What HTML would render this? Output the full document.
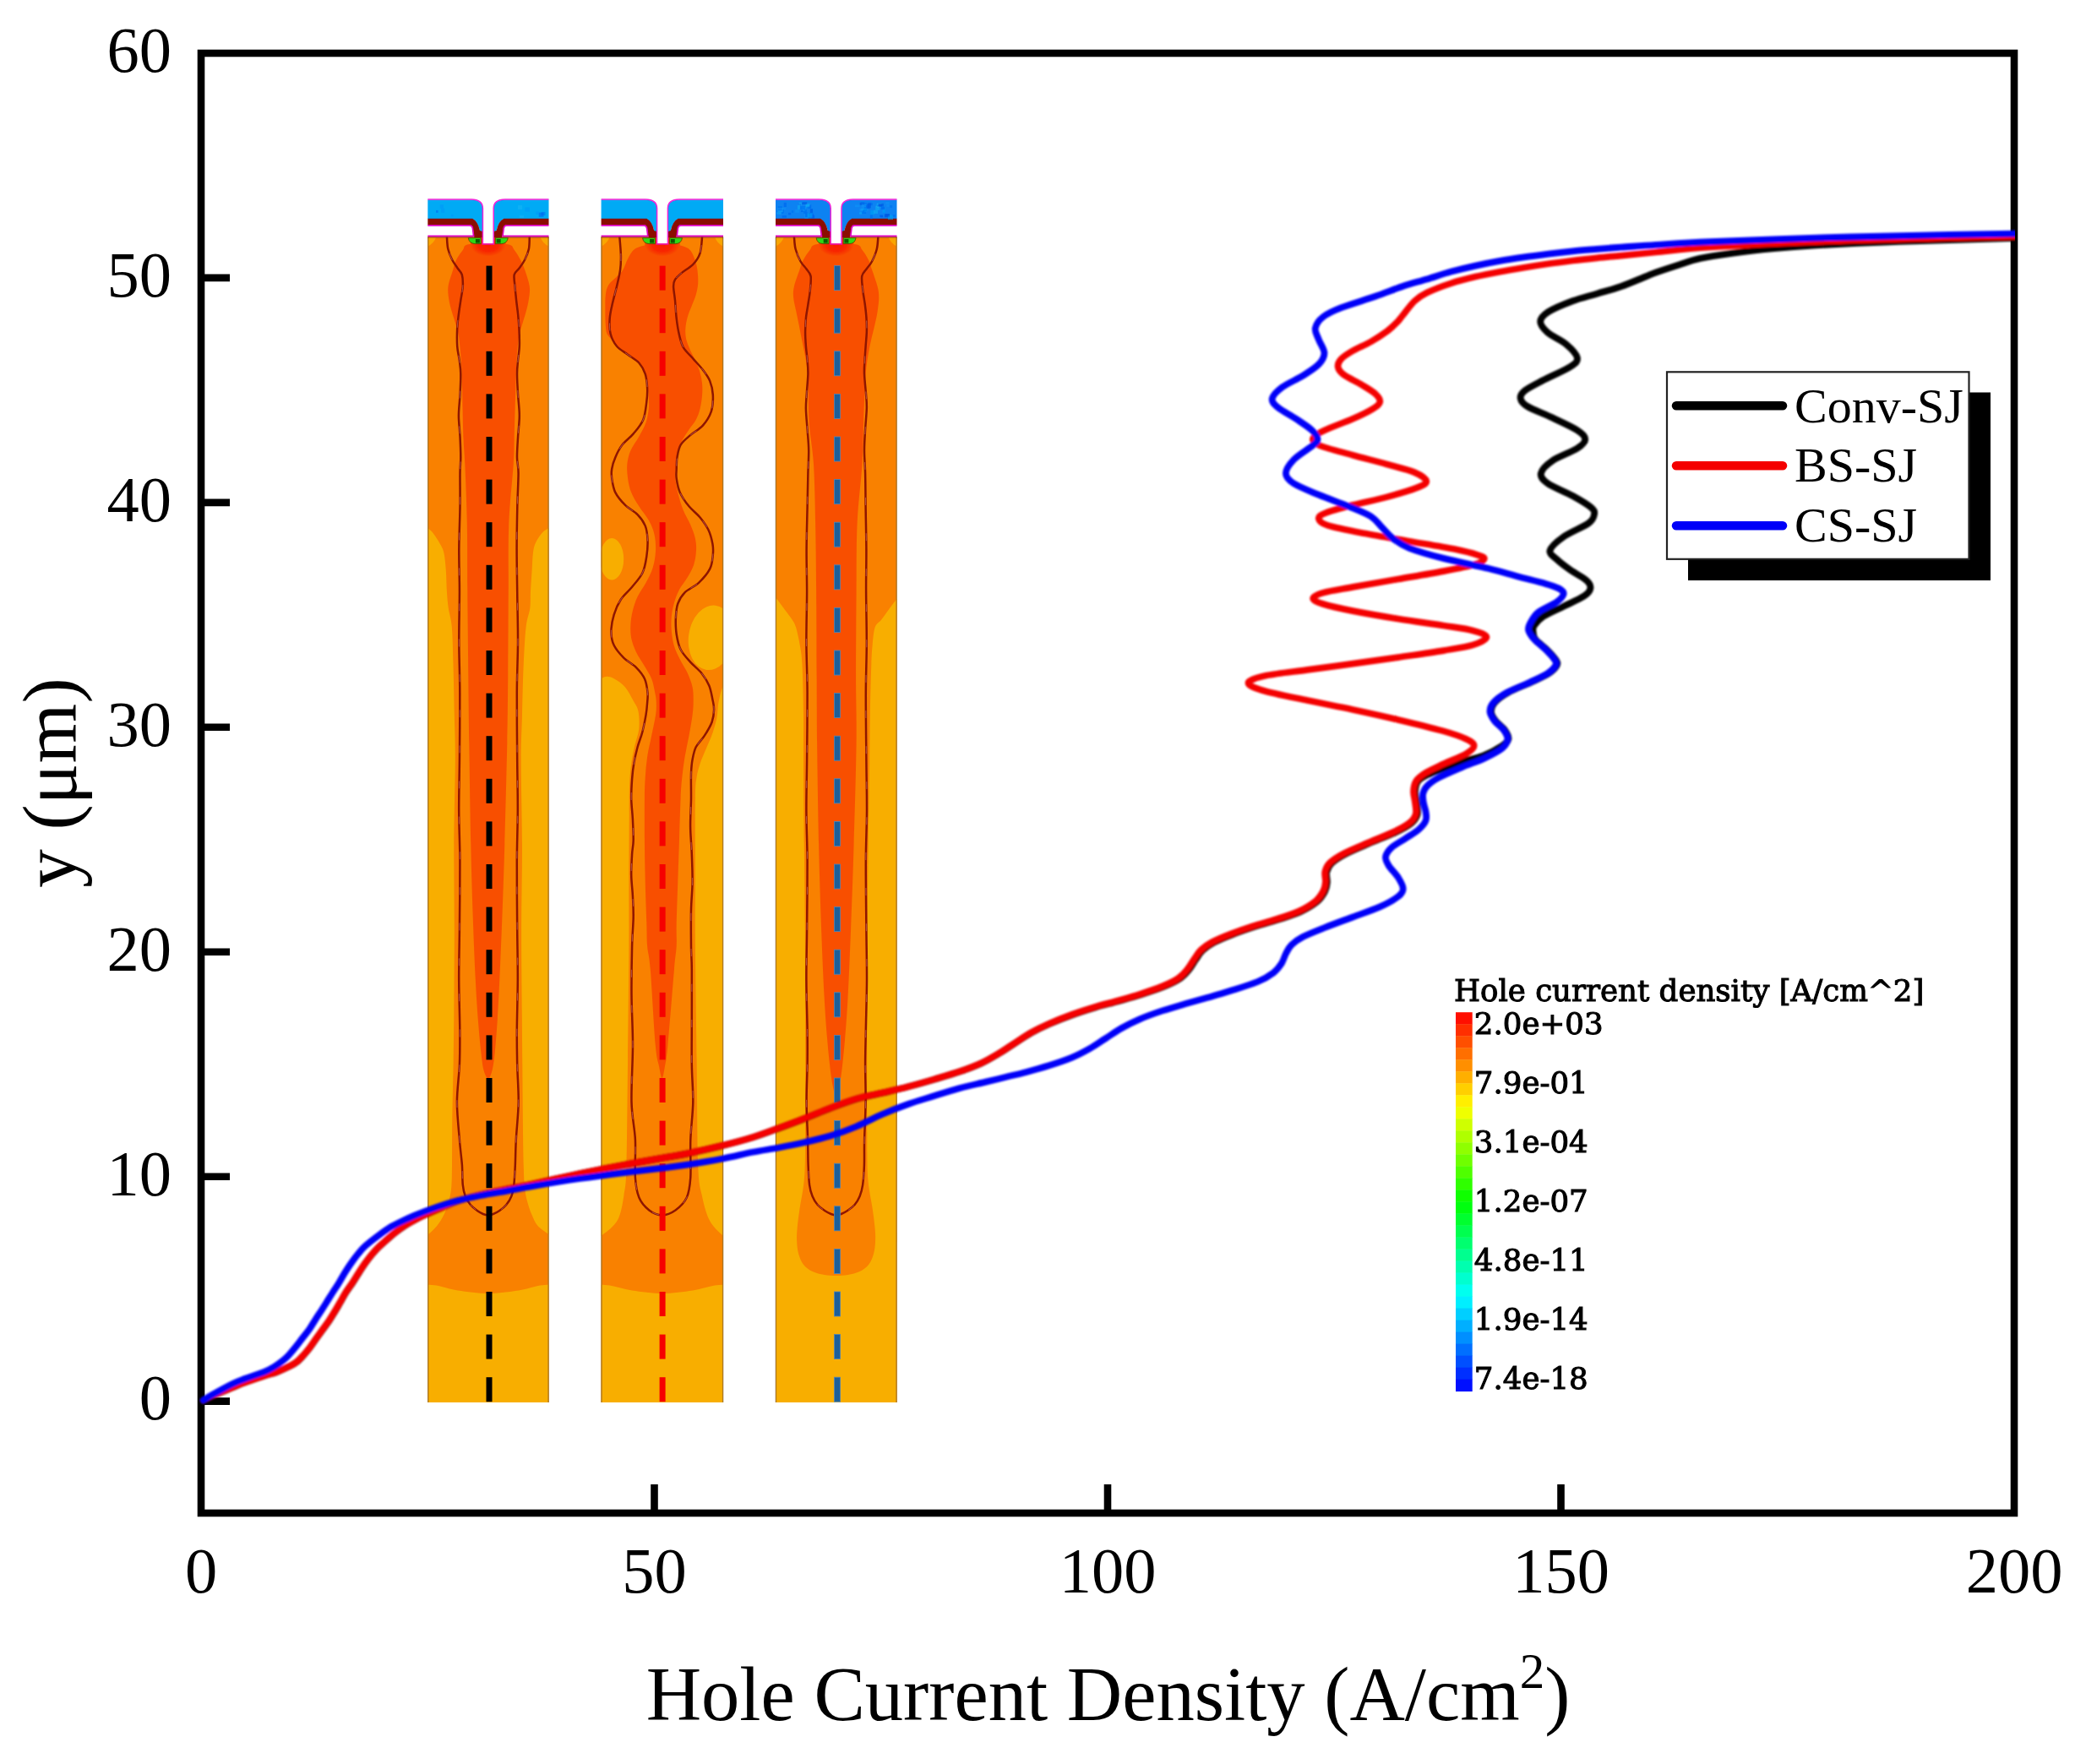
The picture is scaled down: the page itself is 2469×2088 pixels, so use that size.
<!DOCTYPE html>
<html lang="en"><head><meta charset="utf-8"><title>Hole Current Density</title>
<style>html,body{margin:0;padding:0;background:#fff;}svg{display:block;}text{font-family:"Liberation Serif","DejaVu Serif",serif;fill:#000;}.cb{font-family:"DejaVu Serif","Liberation Serif",serif;font-size:35.6px;stroke:#000;stroke-width:1.1px;}</style></head><body>
<svg width="2469" height="2088" viewBox="0 0 2469 2088">
<rect x="0" y="0" width="2469" height="2088" fill="#fff"/>
<defs><radialGradient id="hotg"><stop offset="0" stop-color="#f81c00"/><stop offset="0.55" stop-color="#f82600"/><stop offset="0.8" stop-color="#f83c01"/><stop offset="1" stop-color="#f85002"/></radialGradient><filter id="soft" x="-5%" y="-5%" width="110%" height="110%"><feGaussianBlur stdDeviation="0.55"/></filter></defs>
<g id="devices" filter="url(#soft)">
<defs><clipPath id="dev1"><path d="M506.3 280.6 H571.2 V288.8 H584.4 V280.6 H649.5 V1660.0 H506.3 Z"/></clipPath></defs>
<g clip-path="url(#dev1)">
<rect x="505.3" y="279.6" width="145.2" height="1381.4" fill="#f98103"/>
<path d="M503.8 623.0C504.2 623.3 505.0 623.8 506.3 625.0C507.6 626.2 509.5 627.2 511.8 630.0C514.0 632.8 517.5 638.0 519.8 642.0C522.0 646.0 524.0 648.5 525.3 654.0C526.6 659.5 527.2 667.3 527.8 675.0C528.4 682.7 528.4 692.5 528.9 700.0C529.4 707.5 529.8 713.0 530.8 720.0C531.8 727.0 533.8 730.8 534.8 742.0C535.8 753.2 536.0 769.7 536.5 787.0C537.0 804.3 537.4 827.2 537.8 846.0C538.2 864.8 538.9 874.3 538.8 900.0C538.7 925.7 537.5 966.7 537.3 1000.0C537.1 1033.3 537.8 1066.7 537.8 1100.0C537.8 1133.3 537.5 1173.3 537.3 1200.0C537.1 1226.7 536.9 1240.0 536.6 1260.0C536.3 1280.0 535.6 1300.2 535.3 1320.0C535.0 1339.8 535.2 1364.9 535.0 1379.0C534.8 1393.1 534.9 1397.7 534.3 1404.7C533.7 1411.7 532.9 1415.5 531.4 1421.0C529.9 1426.5 527.9 1432.6 525.6 1437.6C523.3 1442.5 520.4 1446.9 517.4 1450.7C514.4 1454.5 510.1 1458.5 507.5 1460.6C504.9 1462.6 502.7 1462.6 501.8 1463.0 L498.3 1463.0 L498.3 623.0 Z" fill="#f8ae03"/>
<path d="M651.8 623.0C651.4 623.3 651.1 623.8 649.5 625.0C647.9 626.2 644.8 627.2 642.3 630.0C639.8 632.8 636.1 638.0 634.2 642.0C632.3 646.0 631.8 648.5 631.0 654.0C630.2 659.5 630.1 667.3 629.6 675.0C629.1 682.7 628.4 692.5 628.0 700.0C627.6 707.5 628.2 713.0 627.3 720.0C626.4 727.0 623.9 730.8 622.6 742.0C621.3 753.2 620.5 769.7 619.7 787.0C618.9 804.3 618.5 827.2 618.0 846.0C617.5 864.8 616.7 874.3 616.7 900.0C616.7 925.7 617.9 966.7 618.0 1000.0C618.1 1033.3 617.1 1066.7 617.1 1100.0C617.1 1133.3 617.6 1173.3 617.8 1200.0C618.0 1226.7 618.1 1240.0 618.3 1260.0C618.5 1280.0 618.6 1300.2 618.8 1320.0C619.0 1339.8 619.3 1364.9 619.7 1379.0C620.1 1393.1 620.3 1397.7 621.0 1404.7C621.7 1411.7 622.4 1415.5 623.8 1421.0C625.2 1426.5 627.2 1432.6 629.3 1437.6C631.4 1442.5 633.0 1446.9 636.3 1450.7C639.6 1454.5 645.9 1458.5 649.0 1460.6C652.1 1462.6 653.8 1462.6 654.8 1463.0 L657.5 1463.0 L657.5 623.0 Z" fill="#f8ae03"/>
<path d="M498.3 1520.5C501.3 1520.7 509.0 1520.3 516.3 1521.5C523.5 1522.7 531.5 1525.9 541.8 1527.5C552.0 1529.1 565.8 1531.0 577.8 1531.0C589.8 1531.0 603.5 1529.1 613.8 1527.5C624.1 1525.9 632.2 1522.7 639.5 1521.5C646.8 1520.3 654.5 1520.7 657.5 1520.5 L657.5 1665.0 L498.3 1665.0 Z" fill="#f8ae03"/>
<path d="M506.3 280.6 L516.3 280.6 Q513.3 288.6 506.3 291.6 Z" fill="#f9a603"/><path d="M649.5 280.6 L639.5 280.6 Q642.5 288.6 649.5 291.6 Z" fill="#f9a603"/>
<path d="M555.8 289.0C547.1 290.2 550.5 292.8 547.8 296.0C545.1 299.2 541.7 304.2 539.8 308.0C537.9 311.8 537.8 313.8 536.3 319.0C534.8 324.2 531.3 333.0 530.5 339.0C529.7 345.0 530.7 350.0 531.4 355.0C532.1 360.0 533.4 364.0 534.8 369.0C536.2 374.0 538.5 380.3 539.8 385.0C541.1 389.7 542.0 392.0 542.8 397.0C543.6 402.0 544.2 408.8 544.8 415.0C545.4 421.2 545.8 426.5 546.2 434.0C546.6 441.5 546.6 445.7 547.0 460.0C547.4 474.3 548.0 505.2 548.6 520.0C549.1 534.8 549.6 532.3 550.3 549.0C551.0 565.7 552.3 594.8 552.8 620.0C553.3 645.2 553.0 670.0 553.3 700.0C553.5 730.0 554.0 770.0 554.3 800.0C554.6 830.0 554.8 846.7 555.3 880.0C555.8 913.3 556.5 965.3 557.3 1000.0C558.0 1034.7 558.9 1061.3 559.8 1088.0C560.7 1114.7 561.8 1140.2 562.8 1160.0C563.8 1179.8 564.7 1192.8 565.8 1207.0C566.9 1221.2 568.2 1235.2 569.3 1245.0C570.4 1254.8 571.0 1260.7 572.3 1266.0C573.5 1271.3 575.7 1275.2 576.8 1277.0C577.9 1278.8 577.8 1278.8 578.8 1277.0C579.8 1275.2 581.6 1271.3 582.8 1266.0C584.0 1260.7 584.8 1254.8 585.8 1245.0C586.8 1235.2 587.9 1221.2 588.8 1207.0C589.7 1192.8 590.4 1179.8 591.3 1160.0C592.2 1140.2 593.3 1114.7 594.3 1088.0C595.3 1061.3 596.3 1034.7 597.3 1000.0C598.3 965.3 599.6 913.3 600.3 880.0C601.0 846.7 601.0 830.0 601.3 800.0C601.5 770.0 601.6 730.0 601.8 700.0C602.0 670.0 601.3 645.2 602.3 620.0C603.3 594.8 606.7 565.7 607.8 549.0C608.9 532.3 608.3 534.8 608.7 520.0C609.1 505.2 609.9 474.3 610.3 460.0C610.7 445.7 610.8 441.5 611.1 434.0C611.4 426.5 611.8 421.2 612.3 415.0C612.8 408.8 613.5 402.0 614.4 397.0C615.3 392.0 616.4 389.7 617.8 385.0C619.2 380.3 621.3 374.0 622.6 369.0C623.9 364.0 625.1 360.0 625.8 355.0C626.5 350.0 627.6 345.0 626.8 339.0C626.0 333.0 622.8 324.2 621.0 319.0C619.2 313.8 618.3 311.8 616.3 308.0C614.3 304.2 611.5 299.2 608.8 296.0C606.0 292.8 608.6 290.2 599.8 289.0C591.0 287.8 564.5 287.8 555.8 289.0Z" fill="#f85002"/>
<ellipse cx="577.8" cy="290" rx="21" ry="13.5" fill="url(#hotg)"/>
<path d="M528.9 279.9C529.1 282.4 529.2 290.0 530.3 294.7C531.4 299.4 533.4 304.0 535.3 307.8C537.2 311.6 539.9 314.8 541.8 317.7C543.7 320.6 545.8 321.6 546.8 325.1C547.8 328.7 548.0 333.9 547.8 339.0C547.5 344.1 546.1 350.0 545.3 355.5C544.5 361.0 543.6 366.5 542.9 372.0C542.2 377.5 541.5 382.1 541.2 388.4C540.9 394.7 540.8 403.5 541.2 409.8C541.6 416.1 543.0 420.8 543.7 426.3C544.4 431.8 545.2 435.9 545.3 442.7C545.4 449.5 544.9 459.2 544.5 467.4C544.1 475.6 542.9 483.8 542.9 492.0C542.9 500.2 544.1 508.5 544.5 516.7C544.9 524.9 545.3 534.2 545.3 541.4C545.3 548.6 544.6 550.2 544.5 560.0C544.4 569.8 544.7 585.0 544.5 600.0C544.3 615.0 543.4 633.3 543.3 650.0C543.2 666.7 543.9 681.7 543.9 700.0C543.9 718.3 543.2 740.0 543.3 760.0C543.4 780.0 544.2 796.7 544.3 820.0C544.4 843.3 544.1 876.7 543.9 900.0C543.7 923.3 543.1 940.0 543.2 960.0C543.3 980.0 544.3 996.7 544.4 1020.0C544.5 1043.3 544.1 1076.7 543.9 1100.0C543.7 1123.3 543.1 1140.0 543.2 1160.0C543.3 1180.0 544.2 1203.3 544.3 1220.0C544.4 1236.7 544.5 1245.9 543.9 1260.0C543.3 1274.1 540.9 1289.8 540.9 1304.6C540.9 1319.4 542.9 1336.6 543.9 1349.0C544.9 1361.4 546.2 1370.1 546.9 1379.0C547.5 1387.9 547.1 1396.4 547.8 1402.6C548.4 1408.8 549.3 1412.1 550.8 1416.0C552.3 1419.9 554.5 1423.2 556.8 1426.0C559.1 1428.8 562.3 1431.2 564.8 1433.0C567.3 1434.8 569.6 1436.1 571.8 1437.0C574.0 1437.9 575.8 1438.3 577.8 1438.3C579.8 1438.3 581.5 1437.9 583.8 1437.0C586.0 1436.1 588.7 1434.8 591.3 1433.0C593.9 1431.2 597.0 1428.8 599.3 1426.0C601.6 1423.2 603.8 1419.9 605.3 1416.0C606.8 1412.1 607.5 1408.8 608.3 1402.6C609.0 1396.4 609.4 1387.9 609.8 1379.0C610.2 1370.1 610.1 1361.4 610.8 1349.0C611.4 1336.6 613.5 1319.4 613.7 1304.6C613.9 1289.8 612.5 1274.1 612.2 1260.0C611.9 1245.9 611.7 1236.7 611.8 1220.0C611.9 1203.3 612.7 1180.0 612.8 1160.0C612.9 1140.0 612.4 1123.3 612.2 1100.0C612.0 1076.7 611.7 1043.3 611.8 1020.0C611.9 996.7 612.7 980.0 612.8 960.0C612.9 940.0 612.4 923.3 612.2 900.0C612.0 876.7 611.7 843.3 611.8 820.0C611.9 796.7 612.9 780.0 613.0 760.0C613.1 740.0 612.4 718.3 612.2 700.0C612.0 681.7 611.6 666.7 611.6 650.0C611.6 633.3 612.0 615.0 612.3 600.0C612.6 585.0 613.6 569.8 613.6 560.0C613.5 550.2 612.1 548.6 612.0 541.4C611.9 534.2 612.6 524.9 613.1 516.7C613.6 508.5 614.8 500.2 614.8 492.0C614.8 483.8 613.6 475.6 613.1 467.4C612.6 459.2 612.0 449.5 612.0 442.7C612.0 435.9 612.6 431.8 613.1 426.3C613.6 420.8 614.6 416.1 614.8 409.8C615.0 403.5 614.7 394.7 614.4 388.4C614.1 382.1 613.6 377.5 613.1 372.0C612.5 366.5 611.7 361.0 611.1 355.5C610.5 350.0 609.9 344.1 609.5 339.0C609.1 333.9 607.9 328.7 608.7 325.1C609.5 321.6 612.3 320.6 614.4 317.7C616.5 314.8 619.1 311.6 621.0 307.8C622.9 304.0 624.9 299.4 625.9 294.7C626.9 290.0 626.6 282.4 626.8 279.9" fill="none" stroke="#8e1400" stroke-width="2.5" stroke-linejoin="round"/><path d="M528.9 279.9C529.1 282.4 529.2 290.0 530.3 294.7C531.4 299.4 533.4 304.0 535.3 307.8C537.2 311.6 539.9 314.8 541.8 317.7C543.7 320.6 545.8 321.6 546.8 325.1C547.8 328.7 548.0 333.9 547.8 339.0C547.5 344.1 546.1 350.0 545.3 355.5C544.5 361.0 543.6 366.5 542.9 372.0C542.2 377.5 541.5 382.1 541.2 388.4C540.9 394.7 540.8 403.5 541.2 409.8C541.6 416.1 543.0 420.8 543.7 426.3C544.4 431.8 545.2 435.9 545.3 442.7C545.4 449.5 544.9 459.2 544.5 467.4C544.1 475.6 542.9 483.8 542.9 492.0C542.9 500.2 544.1 508.5 544.5 516.7C544.9 524.9 545.3 534.2 545.3 541.4C545.3 548.6 544.6 550.2 544.5 560.0C544.4 569.8 544.7 585.0 544.5 600.0C544.3 615.0 543.4 633.3 543.3 650.0C543.2 666.7 543.9 681.7 543.9 700.0C543.9 718.3 543.2 740.0 543.3 760.0C543.4 780.0 544.2 796.7 544.3 820.0C544.4 843.3 544.1 876.7 543.9 900.0C543.7 923.3 543.1 940.0 543.2 960.0C543.3 980.0 544.3 996.7 544.4 1020.0C544.5 1043.3 544.1 1076.7 543.9 1100.0C543.7 1123.3 543.1 1140.0 543.2 1160.0C543.3 1180.0 544.2 1203.3 544.3 1220.0C544.4 1236.7 544.5 1245.9 543.9 1260.0C543.3 1274.1 540.9 1289.8 540.9 1304.6C540.9 1319.4 542.9 1336.6 543.9 1349.0C544.9 1361.4 546.2 1370.1 546.9 1379.0C547.5 1387.9 547.1 1396.4 547.8 1402.6C548.4 1408.8 549.3 1412.1 550.8 1416.0C552.3 1419.9 554.5 1423.2 556.8 1426.0C559.1 1428.8 562.3 1431.2 564.8 1433.0C567.3 1434.8 569.6 1436.1 571.8 1437.0C574.0 1437.9 575.8 1438.3 577.8 1438.3C579.8 1438.3 581.5 1437.9 583.8 1437.0C586.0 1436.1 588.7 1434.8 591.3 1433.0C593.9 1431.2 597.0 1428.8 599.3 1426.0C601.6 1423.2 603.8 1419.9 605.3 1416.0C606.8 1412.1 607.5 1408.8 608.3 1402.6C609.0 1396.4 609.4 1387.9 609.8 1379.0C610.2 1370.1 610.1 1361.4 610.8 1349.0C611.4 1336.6 613.5 1319.4 613.7 1304.6C613.9 1289.8 612.5 1274.1 612.2 1260.0C611.9 1245.9 611.7 1236.7 611.8 1220.0C611.9 1203.3 612.7 1180.0 612.8 1160.0C612.9 1140.0 612.4 1123.3 612.2 1100.0C612.0 1076.7 611.7 1043.3 611.8 1020.0C611.9 996.7 612.7 980.0 612.8 960.0C612.9 940.0 612.4 923.3 612.2 900.0C612.0 876.7 611.7 843.3 611.8 820.0C611.9 796.7 612.9 780.0 613.0 760.0C613.1 740.0 612.4 718.3 612.2 700.0C612.0 681.7 611.6 666.7 611.6 650.0C611.6 633.3 612.0 615.0 612.3 600.0C612.6 585.0 613.6 569.8 613.6 560.0C613.5 550.2 612.1 548.6 612.0 541.4C611.9 534.2 612.6 524.9 613.1 516.7C613.6 508.5 614.8 500.2 614.8 492.0C614.8 483.8 613.6 475.6 613.1 467.4C612.6 459.2 612.0 449.5 612.0 442.7C612.0 435.9 612.6 431.8 613.1 426.3C613.6 420.8 614.6 416.1 614.8 409.8C615.0 403.5 614.7 394.7 614.4 388.4C614.1 382.1 613.6 377.5 613.1 372.0C612.5 366.5 611.7 361.0 611.1 355.5C610.5 350.0 609.9 344.1 609.5 339.0C609.1 333.9 607.9 328.7 608.7 325.1C609.5 321.6 612.3 320.6 614.4 317.7C616.5 314.8 619.1 311.6 621.0 307.8C622.9 304.0 624.9 299.4 625.9 294.7C626.9 290.0 626.6 282.4 626.8 279.9" fill="none" stroke="#e8b0a8" stroke-opacity="0.4" stroke-width="1.0" stroke-dasharray="9 33" stroke-dashoffset="-20"/>
</g>
<path d="M506.7 280.6 V1660.0 M649.1 280.6 V1660.0" stroke="#a07028" stroke-opacity="0.85" stroke-width="1.4" fill="none"/><path d="M506.3 280.9 H560.8 M594.8 280.9 H649.5" stroke="#7a2a10" stroke-width="1" fill="none"/>
<path d="M506.3 236.4 L557.8 236.4 Q571.2 236.6 571.2 246.6 L571.2 274.5 L568.3 274.0 Q565.3 262.0 559.3 259.0 L506.3 259.0 Z" fill="#00aaf5"/>
<path d="M506.3 258.8 L559.3 258.8 Q565.5 262.0 568.0 273.0 L571.2 274.0 L571.2 281.2 L561.2 281.2 L559.8 270.0 Q559.2 266.2 555.8 266.2 L506.3 266.2 Z" fill="#8b0b00"/>
<path d="M506.3 235.9 L557.8 235.9 Q571.4 236.2 571.4 246.6 L571.4 288.6" fill="none" stroke="#f020d8" stroke-width="1.5"/>
<path d="M506.3 266.9 L555.8 266.9 Q558.9 266.9 559.4 270.0 L560.6 279.4 L506.3 279.4" fill="none" stroke="#e000c0" stroke-width="1.7"/>
<path d="M569.2 281.6 L554.3 281.6 Q555.3 288.4 562.3 288.6 L569.2 288.6 Z" fill="#2fd814" stroke="#5a3a00" stroke-width="0.8"/>
<rect x="562.9" y="283" width="5" height="4.6" fill="#0a5c06"/>
<path d="M649.5 236.4 L597.8 236.4 Q584.4 236.6 584.4 246.6 L584.4 274.5 L587.3 274.0 Q590.3 262.0 596.3 259.0 L649.5 259.0 Z" fill="#00aaf5"/>
<path d="M649.5 258.8 L596.3 258.8 Q590.1 262.0 587.6 273.0 L584.4 274.0 L584.4 281.2 L594.4 281.2 L595.8 270.0 Q596.4 266.2 599.8 266.2 L649.5 266.2 Z" fill="#8b0b00"/>
<path d="M649.5 235.9 L597.8 235.9 Q584.2 236.2 584.2 246.6 L584.2 288.6" fill="none" stroke="#f020d8" stroke-width="1.5"/>
<path d="M649.5 266.9 L599.8 266.9 Q596.7 266.9 596.2 270.0 L595.0 279.4 L649.5 279.4" fill="none" stroke="#e000c0" stroke-width="1.7"/>
<path d="M586.4 281.6 L601.3 281.6 Q600.3 288.4 593.3 288.6 L586.4 288.6 Z" fill="#2fd814" stroke="#5a3a00" stroke-width="0.8"/>
<rect x="587.6" y="283" width="5" height="4.6" fill="#0a5c06"/>
<rect x="534.1" y="253.9" width="2.5" height="2.4" fill="#0a96f8" fill-opacity="0.55"/>
<rect x="640.5" y="250.9" width="5.0" height="4.1" fill="#0070f0" fill-opacity="0.55"/>
<rect x="613.0" y="243.1" width="5.3" height="4.7" fill="#18b4f4" fill-opacity="0.55"/>
<rect x="621.6" y="245.6" width="5.4" height="4.8" fill="#0a96f8" fill-opacity="0.55"/>
<rect x="637.7" y="251.6" width="5.8" height="5.2" fill="#0060ee" fill-opacity="0.55"/>
<rect x="614.5" y="255.0" width="5.7" height="2.9" fill="#18b4f4" fill-opacity="0.55"/>
<rect x="516.1" y="248.9" width="2.5" height="2.9" fill="#0060ee" fill-opacity="0.55"/>
<rect x="522.2" y="246.8" width="4.0" height="5.0" fill="#0a96f8" fill-opacity="0.55"/>
<rect x="520.7" y="242.3" width="4.3" height="4.4" fill="#0a96f8" fill-opacity="0.55"/>
<rect x="634.4" y="250.3" width="3.2" height="3.6" fill="#0a96f8" fill-opacity="0.55"/>
<path d="M570.4 288.9 L585.2 288.9" stroke="#f010b0" stroke-width="1.6"/>
<rect x="575.5" y="314.6" width="7" height="29.0" fill="#000"/><rect x="575.5" y="365.2" width="7" height="29.0" fill="#000"/><rect x="575.5" y="415.8" width="7" height="29.0" fill="#000"/><rect x="575.5" y="466.4" width="7" height="29.0" fill="#000"/><rect x="575.5" y="517.0" width="7" height="29.0" fill="#000"/><rect x="575.5" y="567.6" width="7" height="29.0" fill="#000"/><rect x="575.5" y="618.2" width="7" height="29.0" fill="#000"/><rect x="575.5" y="668.8" width="7" height="29.0" fill="#000"/><rect x="575.5" y="719.4" width="7" height="29.0" fill="#000"/><rect x="575.5" y="770.0" width="7" height="29.0" fill="#000"/><rect x="575.5" y="820.6" width="7" height="29.0" fill="#000"/><rect x="575.5" y="871.2" width="7" height="29.0" fill="#000"/><rect x="575.5" y="921.8" width="7" height="29.0" fill="#000"/><rect x="575.5" y="972.4" width="7" height="29.0" fill="#000"/><rect x="575.5" y="1023.0" width="7" height="29.0" fill="#000"/><rect x="575.5" y="1073.6" width="7" height="29.0" fill="#000"/><rect x="575.5" y="1124.2" width="7" height="29.0" fill="#000"/><rect x="575.5" y="1174.8" width="7" height="29.0" fill="#000"/><rect x="575.5" y="1225.4" width="7" height="29.0" fill="#000"/><rect x="575.5" y="1276.0" width="7" height="29.0" fill="#000"/><rect x="575.5" y="1326.6" width="7" height="29.0" fill="#000"/><rect x="575.5" y="1377.2" width="7" height="29.0" fill="#000"/><rect x="575.5" y="1427.8" width="7" height="29.0" fill="#000"/><rect x="575.5" y="1478.4" width="7" height="29.0" fill="#000"/><rect x="575.5" y="1529.0" width="7" height="29.0" fill="#000"/><rect x="575.5" y="1579.6" width="7" height="29.0" fill="#000"/><rect x="575.5" y="1630.2" width="7" height="29.0" fill="#000"/>
<defs><clipPath id="dev3"><path d="M918.0 280.6 H983.0 V288.8 H996.2 V280.6 H1061.5 V1660.0 H918.0 Z"/></clipPath></defs>
<g clip-path="url(#dev3)">
<rect x="917.0" y="279.6" width="145.5" height="1381.4" fill="#f98103"/>
<path d="M915.6 706.0C916.3 706.6 917.6 707.0 919.8 709.6C922.0 712.2 925.7 717.5 928.7 721.5C931.7 725.5 935.4 729.9 937.6 733.4C939.8 736.9 940.5 737.4 942.0 742.3C943.5 747.2 945.4 755.5 946.6 763.0C947.9 770.5 948.8 773.2 949.5 787.0C950.2 800.8 950.8 827.2 951.0 846.0C951.2 864.8 950.9 874.3 951.0 900.0C951.1 925.7 951.5 966.7 951.8 1000.0C952.1 1033.3 952.6 1066.7 952.8 1100.0C953.0 1133.3 953.0 1173.3 953.0 1200.0C953.0 1226.7 953.0 1230.2 953.0 1260.0C953.0 1289.8 953.0 1352.3 953.0 1379.0C953.0 1405.7 953.0 1404.8 953.0 1420.0C953.0 1435.2 953.0 1461.7 953.0 1470.0 L910.0 1470.0 L910.0 706.0 Z" fill="#f8ae03"/>
<path d="M1064.6 706.0C1064.0 706.6 1063.1 707.0 1061.0 709.6C1058.9 712.2 1055.0 717.5 1052.0 721.5C1049.0 725.5 1045.9 729.9 1043.2 733.4C1040.5 736.9 1037.5 737.4 1035.7 742.3C1034.0 747.2 1033.4 755.5 1032.7 763.0C1032.0 770.5 1031.8 773.2 1031.3 787.0C1030.8 800.8 1030.1 827.2 1029.8 846.0C1029.5 864.8 1029.5 874.3 1029.2 900.0C1028.9 925.7 1028.3 966.7 1027.8 1000.0C1027.3 1033.3 1026.7 1066.7 1026.4 1100.0C1026.1 1133.3 1026.2 1173.3 1026.2 1200.0C1026.2 1226.7 1026.2 1230.2 1026.2 1260.0C1026.2 1289.8 1026.2 1352.3 1026.2 1379.0C1026.2 1405.7 1026.2 1404.8 1026.2 1420.0C1026.2 1435.2 1026.2 1461.7 1026.2 1470.0 L1069.5 1470.0 L1069.5 706.0 Z" fill="#f8ae03"/>
<rect x="916.0" y="1459" width="147.5" height="205.0" fill="#f8ae03"/>
<path d="M953.0 1340.0C953.0 1344.2 953.1 1357.0 953.0 1365.0C952.9 1373.0 952.8 1380.8 952.4 1388.0C952.0 1395.2 951.4 1401.0 950.4 1408.0C949.4 1415.0 947.7 1422.7 946.6 1430.0C945.5 1437.3 944.4 1445.7 943.8 1452.0C943.2 1458.3 942.9 1462.7 943.1 1468.0C943.3 1473.3 943.8 1479.2 945.1 1484.0C946.4 1488.8 948.4 1493.5 951.1 1497.0C953.9 1500.5 957.5 1503.0 961.6 1505.0C965.7 1507.0 970.9 1508.2 975.6 1509.0C980.3 1509.8 984.9 1510.0 989.6 1510.0C994.3 1510.0 998.9 1509.8 1003.6 1509.0C1008.3 1508.2 1013.5 1507.0 1017.6 1505.0C1021.7 1503.0 1025.3 1500.5 1028.1 1497.0C1030.8 1493.5 1032.8 1488.8 1034.1 1484.0C1035.4 1479.2 1035.9 1473.3 1036.1 1468.0C1036.3 1462.7 1036.0 1458.3 1035.4 1452.0C1034.8 1445.7 1033.7 1437.3 1032.6 1430.0C1031.5 1422.7 1029.8 1415.0 1028.8 1408.0C1027.8 1401.0 1027.2 1395.2 1026.8 1388.0C1026.4 1380.8 1026.3 1373.0 1026.2 1365.0C1026.1 1357.0 1026.2 1344.2 1026.2 1340.0 Z" fill="#f98103"/>
<path d="M918.0 280.6 L928.0 280.6 Q925.0 288.6 918.0 291.6 Z" fill="#f9a603"/><path d="M1061.5 280.6 L1051.5 280.6 Q1054.5 288.6 1061.5 291.6 Z" fill="#f9a603"/>
<path d="M967.6 289.0C958.8 290.2 961.4 292.8 958.6 296.0C955.8 299.2 952.6 304.2 950.6 308.0C948.6 311.8 948.3 313.8 946.5 319.0C944.7 324.2 941.1 333.5 939.9 339.0C938.7 344.5 938.7 347.0 939.1 352.0C939.5 357.0 941.3 363.5 942.4 369.0C943.5 374.5 944.6 379.5 945.7 385.0C946.8 390.5 947.9 396.5 949.0 402.0C950.1 407.5 951.3 412.7 952.3 418.0C953.3 423.3 954.4 428.5 955.1 434.0C955.8 439.5 956.2 440.0 956.6 451.0C957.0 462.0 956.5 483.6 957.6 500.0C958.7 516.4 961.8 529.6 963.0 549.6C964.2 569.6 964.6 594.9 965.1 620.0C965.6 645.1 965.9 670.0 966.1 700.0C966.4 730.0 966.4 770.0 966.6 800.0C966.8 830.0 966.7 846.7 967.1 880.0C967.5 913.3 968.3 963.3 969.1 1000.0C969.9 1036.7 971.0 1070.0 972.1 1100.0C973.2 1130.0 974.4 1158.3 975.6 1180.0C976.8 1201.7 977.9 1215.8 979.1 1230.0C980.3 1244.2 981.5 1255.8 982.6 1265.0C983.7 1274.2 984.6 1279.7 985.6 1285.0C986.6 1290.3 987.8 1295.0 988.6 1297.0C989.4 1299.0 989.8 1299.0 990.6 1297.0C991.4 1295.0 992.6 1290.3 993.6 1285.0C994.6 1279.7 995.5 1274.2 996.6 1265.0C997.7 1255.8 998.9 1244.2 1000.1 1230.0C1001.3 1215.8 1002.4 1201.7 1003.6 1180.0C1004.8 1158.3 1005.9 1130.0 1007.1 1100.0C1008.3 1070.0 1009.5 1036.7 1010.6 1000.0C1011.7 963.3 1013.2 913.3 1013.6 880.0C1014.0 846.7 1013.1 830.0 1013.1 800.0C1013.1 770.0 1013.4 730.0 1013.6 700.0C1013.9 670.0 1013.5 645.1 1014.6 620.0C1015.8 594.9 1019.2 569.6 1020.5 549.6C1021.8 529.6 1021.5 516.4 1022.1 500.0C1022.7 483.6 1023.5 462.0 1024.1 451.0C1024.7 440.0 1024.9 439.5 1025.5 434.0C1026.1 428.5 1027.0 423.3 1027.9 418.0C1028.9 412.7 1030.0 407.5 1031.2 402.0C1032.4 396.5 1034.1 390.5 1035.3 385.0C1036.5 379.5 1037.8 374.5 1038.6 369.0C1039.4 363.5 1040.3 357.0 1040.3 352.0C1040.3 347.0 1040.0 344.5 1038.6 339.0C1037.2 333.5 1033.8 324.2 1032.0 319.0C1030.2 313.8 1030.0 311.8 1028.1 308.0C1026.2 304.2 1023.4 299.2 1020.6 296.0C1017.9 292.8 1020.4 290.2 1011.6 289.0C1002.8 287.8 976.4 287.8 967.6 289.0Z" fill="#f85002"/>
<ellipse cx="989.6" cy="290" rx="21" ry="13.5" fill="url(#hotg)"/>
<path d="M939.9 279.9C940.2 282.4 940.3 289.8 941.6 294.7C942.9 299.6 945.4 305.5 947.6 309.5C949.8 313.5 952.6 315.6 954.6 318.5C956.6 321.4 958.9 322.8 959.6 327.0C960.3 331.2 959.3 338.4 958.8 344.0C958.3 349.6 957.2 355.0 956.4 360.5C955.6 366.0 954.4 371.4 953.9 376.9C953.4 382.4 953.1 387.9 953.1 393.4C953.1 398.9 953.5 404.3 953.9 409.8C954.3 415.3 955.2 420.8 955.6 426.3C956.0 431.8 956.5 435.9 956.4 442.7C956.2 449.5 955.1 460.5 954.7 467.4C954.3 474.2 953.8 476.9 953.9 483.8C954.0 490.7 955.0 500.3 955.6 508.5C956.2 516.7 957.1 524.6 957.2 533.2C957.3 541.8 956.7 548.9 956.4 560.0C956.1 571.1 955.9 585.0 955.6 600.0C955.3 615.0 954.7 633.3 954.6 650.0C954.5 666.7 955.1 681.7 955.1 700.0C955.1 718.3 954.3 740.0 954.4 760.0C954.5 780.0 955.5 796.7 955.6 820.0C955.7 843.3 955.3 876.7 955.1 900.0C954.9 923.3 954.3 940.0 954.4 960.0C954.5 980.0 955.5 996.7 955.6 1020.0C955.7 1043.3 955.3 1076.7 955.1 1100.0C954.9 1123.3 954.3 1140.0 954.4 1160.0C954.5 1180.0 955.4 1203.3 955.6 1220.0C955.8 1236.7 955.8 1245.9 955.6 1260.0C955.4 1274.1 954.5 1289.8 954.6 1304.6C954.7 1319.4 955.8 1336.6 956.1 1349.0C956.4 1361.4 956.3 1370.1 956.6 1379.0C956.9 1387.9 957.3 1396.4 958.1 1402.6C958.9 1408.8 960.0 1412.1 961.6 1416.0C963.2 1419.9 965.2 1423.2 967.6 1426.0C970.0 1428.8 973.4 1431.2 976.1 1433.0C978.8 1434.8 981.4 1436.1 983.6 1437.0C985.9 1437.9 987.6 1438.3 989.6 1438.3C991.6 1438.3 993.4 1437.9 995.6 1437.0C997.9 1436.1 1000.4 1434.8 1003.1 1433.0C1005.8 1431.2 1009.2 1428.8 1011.6 1426.0C1014.0 1423.2 1016.0 1419.9 1017.6 1416.0C1019.2 1412.1 1020.2 1408.8 1021.1 1402.6C1022.0 1396.4 1022.6 1387.9 1022.9 1379.0C1023.2 1370.1 1022.8 1361.4 1023.1 1349.0C1023.4 1336.6 1024.4 1319.4 1024.6 1304.6C1024.8 1289.8 1024.1 1274.1 1024.1 1260.0C1024.1 1245.9 1024.5 1236.7 1024.8 1220.0C1025.1 1203.3 1025.9 1180.0 1026.0 1160.0C1026.1 1140.0 1025.6 1123.3 1025.4 1100.0C1025.2 1076.7 1024.7 1043.3 1024.8 1020.0C1024.9 996.7 1025.9 980.0 1026.0 960.0C1026.1 940.0 1025.6 923.3 1025.4 900.0C1025.2 876.7 1024.7 843.3 1024.8 820.0C1024.9 796.7 1025.8 780.0 1025.8 760.0C1025.8 740.0 1025.2 718.3 1025.1 700.0C1025.0 681.7 1025.5 666.7 1025.4 650.0C1025.3 633.3 1024.8 615.0 1024.6 600.0C1024.4 585.0 1024.4 571.1 1024.1 560.0C1023.8 548.9 1023.0 541.8 1023.0 533.2C1023.0 524.6 1023.6 516.7 1024.1 508.5C1024.6 500.3 1025.6 490.7 1025.8 483.8C1026.0 476.9 1025.6 474.2 1025.1 467.4C1024.6 460.5 1023.3 449.5 1023.0 442.7C1022.7 435.9 1023.2 431.8 1023.5 426.3C1023.8 420.8 1024.2 415.3 1024.6 409.8C1025.0 404.3 1025.6 398.9 1025.8 393.4C1026.0 387.9 1025.8 382.4 1025.5 376.9C1025.2 371.4 1024.5 366.0 1023.8 360.5C1023.1 355.0 1021.9 349.6 1021.3 344.0C1020.7 338.4 1019.5 331.2 1020.2 327.0C1020.9 322.8 1023.5 321.4 1025.5 318.5C1027.5 315.6 1030.0 313.5 1032.0 309.5C1034.0 305.5 1036.6 299.6 1037.8 294.7C1039.0 289.8 1039.1 282.4 1039.4 279.9" fill="none" stroke="#8e1400" stroke-width="2.5" stroke-linejoin="round"/><path d="M939.9 279.9C940.2 282.4 940.3 289.8 941.6 294.7C942.9 299.6 945.4 305.5 947.6 309.5C949.8 313.5 952.6 315.6 954.6 318.5C956.6 321.4 958.9 322.8 959.6 327.0C960.3 331.2 959.3 338.4 958.8 344.0C958.3 349.6 957.2 355.0 956.4 360.5C955.6 366.0 954.4 371.4 953.9 376.9C953.4 382.4 953.1 387.9 953.1 393.4C953.1 398.9 953.5 404.3 953.9 409.8C954.3 415.3 955.2 420.8 955.6 426.3C956.0 431.8 956.5 435.9 956.4 442.7C956.2 449.5 955.1 460.5 954.7 467.4C954.3 474.2 953.8 476.9 953.9 483.8C954.0 490.7 955.0 500.3 955.6 508.5C956.2 516.7 957.1 524.6 957.2 533.2C957.3 541.8 956.7 548.9 956.4 560.0C956.1 571.1 955.9 585.0 955.6 600.0C955.3 615.0 954.7 633.3 954.6 650.0C954.5 666.7 955.1 681.7 955.1 700.0C955.1 718.3 954.3 740.0 954.4 760.0C954.5 780.0 955.5 796.7 955.6 820.0C955.7 843.3 955.3 876.7 955.1 900.0C954.9 923.3 954.3 940.0 954.4 960.0C954.5 980.0 955.5 996.7 955.6 1020.0C955.7 1043.3 955.3 1076.7 955.1 1100.0C954.9 1123.3 954.3 1140.0 954.4 1160.0C954.5 1180.0 955.4 1203.3 955.6 1220.0C955.8 1236.7 955.8 1245.9 955.6 1260.0C955.4 1274.1 954.5 1289.8 954.6 1304.6C954.7 1319.4 955.8 1336.6 956.1 1349.0C956.4 1361.4 956.3 1370.1 956.6 1379.0C956.9 1387.9 957.3 1396.4 958.1 1402.6C958.9 1408.8 960.0 1412.1 961.6 1416.0C963.2 1419.9 965.2 1423.2 967.6 1426.0C970.0 1428.8 973.4 1431.2 976.1 1433.0C978.8 1434.8 981.4 1436.1 983.6 1437.0C985.9 1437.9 987.6 1438.3 989.6 1438.3C991.6 1438.3 993.4 1437.9 995.6 1437.0C997.9 1436.1 1000.4 1434.8 1003.1 1433.0C1005.8 1431.2 1009.2 1428.8 1011.6 1426.0C1014.0 1423.2 1016.0 1419.9 1017.6 1416.0C1019.2 1412.1 1020.2 1408.8 1021.1 1402.6C1022.0 1396.4 1022.6 1387.9 1022.9 1379.0C1023.2 1370.1 1022.8 1361.4 1023.1 1349.0C1023.4 1336.6 1024.4 1319.4 1024.6 1304.6C1024.8 1289.8 1024.1 1274.1 1024.1 1260.0C1024.1 1245.9 1024.5 1236.7 1024.8 1220.0C1025.1 1203.3 1025.9 1180.0 1026.0 1160.0C1026.1 1140.0 1025.6 1123.3 1025.4 1100.0C1025.2 1076.7 1024.7 1043.3 1024.8 1020.0C1024.9 996.7 1025.9 980.0 1026.0 960.0C1026.1 940.0 1025.6 923.3 1025.4 900.0C1025.2 876.7 1024.7 843.3 1024.8 820.0C1024.9 796.7 1025.8 780.0 1025.8 760.0C1025.8 740.0 1025.2 718.3 1025.1 700.0C1025.0 681.7 1025.5 666.7 1025.4 650.0C1025.3 633.3 1024.8 615.0 1024.6 600.0C1024.4 585.0 1024.4 571.1 1024.1 560.0C1023.8 548.9 1023.0 541.8 1023.0 533.2C1023.0 524.6 1023.6 516.7 1024.1 508.5C1024.6 500.3 1025.6 490.7 1025.8 483.8C1026.0 476.9 1025.6 474.2 1025.1 467.4C1024.6 460.5 1023.3 449.5 1023.0 442.7C1022.7 435.9 1023.2 431.8 1023.5 426.3C1023.8 420.8 1024.2 415.3 1024.6 409.8C1025.0 404.3 1025.6 398.9 1025.8 393.4C1026.0 387.9 1025.8 382.4 1025.5 376.9C1025.2 371.4 1024.5 366.0 1023.8 360.5C1023.1 355.0 1021.9 349.6 1021.3 344.0C1020.7 338.4 1019.5 331.2 1020.2 327.0C1020.9 322.8 1023.5 321.4 1025.5 318.5C1027.5 315.6 1030.0 313.5 1032.0 309.5C1034.0 305.5 1036.6 299.6 1037.8 294.7C1039.0 289.8 1039.1 282.4 1039.4 279.9" fill="none" stroke="#e8b0a8" stroke-opacity="0.4" stroke-width="1.0" stroke-dasharray="9 33" stroke-dashoffset="-20"/>
</g>
<path d="M918.4 280.6 V1660.0 M1061.1 280.6 V1660.0" stroke="#a07028" stroke-opacity="0.85" stroke-width="1.4" fill="none"/><path d="M918.0 280.9 H972.6 M1006.6 280.9 H1061.5" stroke="#7a2a10" stroke-width="1" fill="none"/>
<path d="M918.0 236.4 L969.6 236.4 Q983.0 236.6 983.0 246.6 L983.0 274.5 L980.1 274.0 Q977.1 262.0 971.1 259.0 L918.0 259.0 Z" fill="#0a82f2"/>
<path d="M918.0 258.8 L971.1 258.8 Q977.3 262.0 979.8 273.0 L983.0 274.0 L983.0 281.2 L973.0 281.2 L971.6 270.0 Q971.0 266.2 967.6 266.2 L918.0 266.2 Z" fill="#8b0b00"/>
<path d="M918.0 235.9 L969.6 235.9 Q983.2 236.2 983.2 246.6 L983.2 288.6" fill="none" stroke="#f020d8" stroke-width="1.5"/>
<path d="M918.0 266.9 L967.6 266.9 Q970.7 266.9 971.2 270.0 L972.4 279.4 L918.0 279.4" fill="none" stroke="#e000c0" stroke-width="1.7"/>
<path d="M981.0 281.6 L966.1 281.6 Q967.1 288.4 974.1 288.6 L981.0 288.6 Z" fill="#2fd814" stroke="#5a3a00" stroke-width="0.8"/>
<rect x="974.7" y="283" width="5" height="4.6" fill="#0a5c06"/>
<path d="M1061.5 236.4 L1009.6 236.4 Q996.2 236.6 996.2 246.6 L996.2 274.5 L999.1 274.0 Q1002.1 262.0 1008.1 259.0 L1061.5 259.0 Z" fill="#0a82f2"/>
<path d="M1061.5 258.8 L1008.1 258.8 Q1001.9 262.0 999.4 273.0 L996.2 274.0 L996.2 281.2 L1006.2 281.2 L1007.6 270.0 Q1008.2 266.2 1011.6 266.2 L1061.5 266.2 Z" fill="#8b0b00"/>
<path d="M1061.5 235.9 L1009.6 235.9 Q996.0 236.2 996.0 246.6 L996.0 288.6" fill="none" stroke="#f020d8" stroke-width="1.5"/>
<path d="M1061.5 266.9 L1011.6 266.9 Q1008.5 266.9 1008.0 270.0 L1006.8 279.4 L1061.5 279.4" fill="none" stroke="#e000c0" stroke-width="1.7"/>
<path d="M998.2 281.6 L1013.1 281.6 Q1012.1 288.4 1005.1 288.6 L998.2 288.6 Z" fill="#2fd814" stroke="#5a3a00" stroke-width="0.8"/>
<rect x="999.4" y="283" width="5" height="4.6" fill="#0a5c06"/>
<rect x="960.4" y="254.9" width="3.7" height="3.6" fill="#0050e0" fill-opacity="0.55"/>
<rect x="926.0" y="246.2" width="4.0" height="2.0" fill="#0a96f8" fill-opacity="0.55"/>
<rect x="1046.7" y="253.5" width="6.2" height="4.0" fill="#0050e0" fill-opacity="0.55"/>
<rect x="1044.7" y="246.9" width="3.0" height="4.9" fill="#00a8f5" fill-opacity="0.55"/>
<rect x="1056.1" y="254.0" width="3.8" height="2.7" fill="#0070f0" fill-opacity="0.55"/>
<rect x="921.3" y="247.6" width="6.4" height="5.0" fill="#0070f0" fill-opacity="0.55"/>
<rect x="949.1" y="245.0" width="4.7" height="4.8" fill="#0a96f8" fill-opacity="0.55"/>
<rect x="945.6" y="239.6" width="3.3" height="3.7" fill="#18b4f4" fill-opacity="0.55"/>
<rect x="941.2" y="247.8" width="5.0" height="3.9" fill="#0a96f8" fill-opacity="0.55"/>
<rect x="1017.6" y="239.6" width="5.7" height="3.1" fill="#0050e0" fill-opacity="0.55"/>
<rect x="1022.5" y="246.6" width="3.5" height="3.5" fill="#0060ee" fill-opacity="0.55"/>
<rect x="957.0" y="253.0" width="4.0" height="5.3" fill="#0070f0" fill-opacity="0.55"/>
<rect x="1036.2" y="243.7" width="5.0" height="5.1" fill="#18b4f4" fill-opacity="0.55"/>
<rect x="936.9" y="249.3" width="2.5" height="2.4" fill="#0070f0" fill-opacity="0.55"/>
<rect x="919.1" y="250.3" width="2.6" height="3.5" fill="#0070f0" fill-opacity="0.55"/>
<rect x="920.5" y="245.9" width="6.0" height="5.2" fill="#18b4f4" fill-opacity="0.55"/>
<rect x="1024.6" y="246.5" width="3.2" height="3.0" fill="#0a96f8" fill-opacity="0.55"/>
<rect x="1019.7" y="239.6" width="6.4" height="2.1" fill="#0070f0" fill-opacity="0.55"/>
<rect x="953.8" y="242.8" width="5.3" height="3.3" fill="#00a8f5" fill-opacity="0.55"/>
<rect x="919.2" y="251.1" width="5.5" height="2.6" fill="#18b4f4" fill-opacity="0.55"/>
<rect x="1030.0" y="240.2" width="3.0" height="3.3" fill="#0070f0" fill-opacity="0.55"/>
<rect x="1038.1" y="240.6" width="5.4" height="2.7" fill="#18b4f4" fill-opacity="0.55"/>
<rect x="952.2" y="254.1" width="4.6" height="4.6" fill="#0a96f8" fill-opacity="0.55"/>
<rect x="1049.3" y="242.4" width="3.2" height="2.3" fill="#0a96f8" fill-opacity="0.55"/>
<rect x="953.1" y="251.4" width="2.9" height="2.1" fill="#0070f0" fill-opacity="0.55"/>
<rect x="1037.5" y="241.2" width="6.0" height="4.5" fill="#18b4f4" fill-opacity="0.55"/>
<rect x="950.9" y="249.9" width="3.5" height="2.9" fill="#0070f0" fill-opacity="0.55"/>
<rect x="1050.9" y="254.7" width="6.1" height="5.4" fill="#00a8f5" fill-opacity="0.55"/>
<rect x="1038.2" y="241.9" width="5.8" height="2.7" fill="#0070f0" fill-opacity="0.55"/>
<rect x="1019.8" y="248.4" width="5.4" height="4.6" fill="#0070f0" fill-opacity="0.55"/>
<rect x="920.8" y="244.1" width="5.0" height="5.3" fill="#0070f0" fill-opacity="0.55"/>
<rect x="1021.7" y="246.2" width="3.2" height="2.4" fill="#00a8f5" fill-opacity="0.55"/>
<rect x="1047.7" y="253.0" width="5.2" height="3.5" fill="#0050e0" fill-opacity="0.55"/>
<rect x="1023.0" y="242.5" width="6.4" height="4.8" fill="#0060ee" fill-opacity="0.55"/>
<rect x="1042.2" y="255.2" width="3.1" height="2.2" fill="#0050e0" fill-opacity="0.55"/>
<rect x="948.0" y="248.6" width="2.8" height="2.3" fill="#0060ee" fill-opacity="0.55"/>
<rect x="1011.9" y="242.5" width="5.6" height="2.7" fill="#0a96f8" fill-opacity="0.55"/>
<rect x="1034.0" y="248.7" width="5.0" height="4.2" fill="#18b4f4" fill-opacity="0.55"/>
<rect x="955.4" y="244.1" width="3.8" height="2.4" fill="#0070f0" fill-opacity="0.55"/>
<rect x="957.6" y="242.5" width="2.7" height="3.9" fill="#0060ee" fill-opacity="0.55"/>
<rect x="1040.3" y="242.2" width="3.7" height="3.1" fill="#0060ee" fill-opacity="0.55"/>
<rect x="959.8" y="254.9" width="4.1" height="2.7" fill="#0070f0" fill-opacity="0.55"/>
<rect x="953.2" y="253.6" width="3.1" height="3.6" fill="#0060ee" fill-opacity="0.55"/>
<rect x="1017.1" y="251.2" width="3.1" height="2.4" fill="#18b4f4" fill-opacity="0.55"/>
<rect x="944.5" y="241.3" width="3.7" height="2.1" fill="#0060ee" fill-opacity="0.55"/>
<rect x="1043.1" y="244.6" width="3.9" height="3.5" fill="#0060ee" fill-opacity="0.55"/>
<rect x="927.6" y="239.7" width="3.2" height="5.3" fill="#0060ee" fill-opacity="0.55"/>
<rect x="1018.7" y="246.7" width="3.4" height="2.5" fill="#18b4f4" fill-opacity="0.55"/>
<rect x="925.5" y="255.0" width="5.5" height="2.6" fill="#0060ee" fill-opacity="0.55"/>
<rect x="1023.0" y="246.1" width="2.8" height="5.1" fill="#0a96f8" fill-opacity="0.55"/>
<rect x="953.4" y="240.9" width="5.1" height="3.7" fill="#18b4f4" fill-opacity="0.55"/>
<rect x="949.3" y="239.3" width="5.9" height="2.6" fill="#0050e0" fill-opacity="0.55"/>
<rect x="1029.8" y="254.2" width="2.9" height="5.2" fill="#0070f0" fill-opacity="0.55"/>
<rect x="1053.3" y="243.1" width="2.9" height="2.7" fill="#0070f0" fill-opacity="0.55"/>
<rect x="1027.5" y="239.6" width="3.9" height="3.0" fill="#0060ee" fill-opacity="0.55"/>
<rect x="1017.3" y="246.8" width="4.4" height="3.8" fill="#0a96f8" fill-opacity="0.55"/>
<rect x="958.8" y="247.1" width="3.3" height="4.8" fill="#0050e0" fill-opacity="0.55"/>
<rect x="957.5" y="252.6" width="5.7" height="3.9" fill="#0060ee" fill-opacity="0.55"/>
<rect x="1019.8" y="241.7" width="5.2" height="2.7" fill="#0a96f8" fill-opacity="0.55"/>
<rect x="947.1" y="244.2" width="5.8" height="3.8" fill="#0070f0" fill-opacity="0.55"/>
<rect x="1048.3" y="239.0" width="4.3" height="2.7" fill="#0a96f8" fill-opacity="0.55"/>
<rect x="1030.3" y="248.9" width="4.7" height="5.2" fill="#00a8f5" fill-opacity="0.55"/>
<rect x="955.5" y="252.7" width="6.0" height="4.7" fill="#00a8f5" fill-opacity="0.55"/>
<rect x="952.2" y="247.9" width="2.7" height="4.5" fill="#0070f0" fill-opacity="0.55"/>
<rect x="1026.5" y="240.9" width="4.3" height="5.5" fill="#0050e0" fill-opacity="0.55"/>
<rect x="1041.0" y="254.2" width="4.0" height="2.8" fill="#0060ee" fill-opacity="0.55"/>
<rect x="933.0" y="251.7" width="3.2" height="2.8" fill="#0060ee" fill-opacity="0.55"/>
<rect x="1019.5" y="243.5" width="5.6" height="2.2" fill="#0a96f8" fill-opacity="0.55"/>
<rect x="943.9" y="242.4" width="3.0" height="5.4" fill="#18b4f4" fill-opacity="0.55"/>
<rect x="1039.6" y="240.9" width="6.2" height="3.2" fill="#0050e0" fill-opacity="0.55"/>
<path d="M982.2 288.9 L997.0 288.9" stroke="#f010b0" stroke-width="1.6"/>
<rect x="987.5" y="314.6" width="7" height="29.0" fill="#1e5f9a" stroke="#4f86b8" stroke-width="0.8"/><rect x="987.5" y="365.2" width="7" height="29.0" fill="#1e5f9a" stroke="#4f86b8" stroke-width="0.8"/><rect x="987.5" y="415.8" width="7" height="29.0" fill="#1e5f9a" stroke="#4f86b8" stroke-width="0.8"/><rect x="987.5" y="466.4" width="7" height="29.0" fill="#1e5f9a" stroke="#4f86b8" stroke-width="0.8"/><rect x="987.5" y="517.0" width="7" height="29.0" fill="#1e5f9a" stroke="#4f86b8" stroke-width="0.8"/><rect x="987.5" y="567.6" width="7" height="29.0" fill="#1e5f9a" stroke="#4f86b8" stroke-width="0.8"/><rect x="987.5" y="618.2" width="7" height="29.0" fill="#1e5f9a" stroke="#4f86b8" stroke-width="0.8"/><rect x="987.5" y="668.8" width="7" height="29.0" fill="#1e5f9a" stroke="#4f86b8" stroke-width="0.8"/><rect x="987.5" y="719.4" width="7" height="29.0" fill="#1e5f9a" stroke="#4f86b8" stroke-width="0.8"/><rect x="987.5" y="770.0" width="7" height="29.0" fill="#1e5f9a" stroke="#4f86b8" stroke-width="0.8"/><rect x="987.5" y="820.6" width="7" height="29.0" fill="#1e5f9a" stroke="#4f86b8" stroke-width="0.8"/><rect x="987.5" y="871.2" width="7" height="29.0" fill="#1e5f9a" stroke="#4f86b8" stroke-width="0.8"/><rect x="987.5" y="921.8" width="7" height="29.0" fill="#1e5f9a" stroke="#4f86b8" stroke-width="0.8"/><rect x="987.5" y="972.4" width="7" height="29.0" fill="#1e5f9a" stroke="#4f86b8" stroke-width="0.8"/><rect x="987.5" y="1023.0" width="7" height="29.0" fill="#1e5f9a" stroke="#4f86b8" stroke-width="0.8"/><rect x="987.5" y="1073.6" width="7" height="29.0" fill="#1e5f9a" stroke="#4f86b8" stroke-width="0.8"/><rect x="987.5" y="1124.2" width="7" height="29.0" fill="#1e5f9a" stroke="#4f86b8" stroke-width="0.8"/><rect x="987.5" y="1174.8" width="7" height="29.0" fill="#1e5f9a" stroke="#4f86b8" stroke-width="0.8"/><rect x="987.5" y="1225.4" width="7" height="29.0" fill="#1e5f9a" stroke="#4f86b8" stroke-width="0.8"/><rect x="987.5" y="1276.0" width="7" height="29.0" fill="#1e5f9a" stroke="#4f86b8" stroke-width="0.8"/><rect x="987.5" y="1326.6" width="7" height="29.0" fill="#1e5f9a" stroke="#4f86b8" stroke-width="0.8"/><rect x="987.5" y="1377.2" width="7" height="29.0" fill="#1e5f9a" stroke="#4f86b8" stroke-width="0.8"/><rect x="987.5" y="1427.8" width="7" height="29.0" fill="#1e5f9a" stroke="#4f86b8" stroke-width="0.8"/><rect x="987.5" y="1478.4" width="7" height="29.0" fill="#1e5f9a" stroke="#4f86b8" stroke-width="0.8"/><rect x="987.5" y="1529.0" width="7" height="29.0" fill="#1e5f9a" stroke="#4f86b8" stroke-width="0.8"/><rect x="987.5" y="1579.6" width="7" height="29.0" fill="#1e5f9a" stroke="#4f86b8" stroke-width="0.8"/><rect x="987.5" y="1630.2" width="7" height="29.0" fill="#1e5f9a" stroke="#4f86b8" stroke-width="0.8"/>
<defs><clipPath id="dev2"><path d="M711.6 280.6 H777.4 V288.8 H790.6 V280.6 H856.0 V1660.0 H711.6 Z"/></clipPath></defs>
<g clip-path="url(#dev2)">
<rect x="710.6" y="279.6" width="146.4" height="1381.4" fill="#f98103"/>
<ellipse cx="724.2" cy="661.8" rx="14" ry="24.7" fill="#f8ae03"/>
<ellipse cx="841.5" cy="754.8" rx="26.5" ry="38.5" transform="rotate(8 841.5 754.8)" fill="#f8ae03"/>
<path d="M700.0 808.0C701.0 807.5 703.9 805.9 706.0 805.0C708.1 804.1 710.6 803.2 712.7 802.5C714.8 801.8 716.2 800.7 718.5 800.8C720.8 800.9 723.2 801.2 726.7 803.3C730.2 805.4 736.0 808.8 739.8 813.2C743.6 817.6 747.1 824.8 749.7 829.6C752.3 834.4 754.4 836.5 755.5 842.0C756.6 847.5 757.0 856.1 756.3 862.9C755.6 869.7 752.8 875.8 751.3 882.6C749.8 889.5 748.2 896.3 747.2 904.0C746.2 911.7 745.5 919.1 745.1 928.7C744.7 938.3 744.9 943.1 744.8 961.6C744.7 980.1 744.5 1013.6 744.4 1040.0C744.3 1066.4 744.6 1083.3 744.4 1120.0C744.2 1156.7 743.5 1216.8 743.0 1260.0C742.5 1303.2 742.2 1353.2 741.5 1379.0C740.8 1404.8 740.2 1403.7 738.5 1414.5C736.8 1425.3 735.3 1436.2 731.1 1444.0C726.9 1451.8 717.8 1458.2 713.3 1461.5C708.8 1464.8 705.5 1463.6 704.0 1464.0 L696 1464 L696 808 Z" fill="#f8ae03"/>
<path d="M866.0 810.0C864.3 810.5 858.3 809.9 855.8 813.2C853.3 816.5 851.8 825.1 850.8 829.6C849.8 834.1 849.9 836.6 849.5 840.0C849.1 843.4 849.4 845.1 848.4 849.7C847.4 854.3 845.6 861.5 843.4 867.8C841.2 874.1 837.7 881.6 835.2 887.6C832.7 893.6 830.4 898.5 828.6 904.0C826.8 909.5 825.5 913.6 824.5 920.5C823.5 927.4 823.2 925.2 822.9 945.1C822.6 965.0 822.9 1010.9 822.9 1040.0C822.9 1069.2 822.6 1083.3 822.9 1120.0C823.2 1156.7 824.2 1216.8 824.7 1260.0C825.2 1303.2 825.2 1353.2 826.2 1379.0C827.2 1404.8 828.5 1403.7 830.7 1414.5C832.9 1425.3 835.6 1436.1 839.6 1444.0C843.6 1451.9 850.9 1458.5 855.0 1462.0C859.1 1465.5 862.5 1464.5 864.0 1465.0 L872 1465 L872 810 Z" fill="#f8ae03"/>
<path d="M703.6 1520.5C706.6 1520.7 714.2 1520.3 721.6 1521.5C729.0 1522.7 737.6 1525.9 748.0 1527.5C758.4 1529.1 772.0 1531.0 784.0 1531.0C796.0 1531.0 809.7 1529.1 820.0 1527.5C830.3 1525.9 838.7 1522.7 846.0 1521.5C853.3 1520.3 861.0 1520.7 864.0 1520.5 L864.0 1665.0 L703.6 1665.0 Z" fill="#f8ae03"/>
<path d="M711.6 280.6 L721.6 280.6 Q718.6 288.6 711.6 291.6 Z" fill="#f9a603"/><path d="M856.0 280.6 L846.0 280.6 Q849.0 288.6 856.0 291.6 Z" fill="#f9a603"/>
<path d="M772.0 288.5C767.0 288.7 769.6 288.7 766.1 289.7C762.6 290.7 755.1 291.9 751.3 294.7C747.5 297.4 745.4 302.1 743.1 306.2C740.8 310.3 739.6 315.7 737.4 319.3C735.2 322.9 732.9 324.6 730.0 327.6C727.1 330.6 722.3 333.8 720.1 337.4C717.9 341.0 717.4 344.1 716.8 349.0C716.2 353.9 716.3 361.0 716.3 367.0C716.3 373.0 716.4 380.3 716.8 385.0C717.1 389.7 717.3 392.2 718.4 395.0C719.5 397.8 721.5 398.9 723.4 401.5C725.3 404.1 726.7 407.6 730.0 410.8C733.3 414.0 738.7 417.4 743.1 420.7C747.5 424.0 752.9 426.7 756.3 430.5C759.7 434.3 762.0 439.4 763.7 443.5C765.4 447.6 765.8 450.6 766.5 455.0C767.2 459.4 767.6 465.2 767.8 470.0C768.0 474.8 768.3 478.8 767.8 483.8C767.2 488.9 766.4 494.8 764.5 500.3C762.6 505.8 759.3 511.2 756.3 516.7C753.3 522.2 748.7 527.7 746.4 533.2C744.1 538.7 742.8 544.1 742.3 549.6C741.8 555.1 742.3 560.9 743.1 566.4C743.9 571.9 745.0 577.4 747.2 582.9C749.4 588.4 752.9 593.8 756.3 599.3C759.7 604.8 764.8 610.3 767.8 615.8C770.8 621.3 773.0 626.2 774.4 632.2C775.8 638.2 776.3 645.4 776.0 652.0C775.7 658.6 774.6 665.4 772.7 671.7C770.8 678.0 767.5 684.0 764.5 689.8C761.5 695.6 757.2 700.8 754.6 706.3C752.0 711.8 750.3 717.2 748.9 722.7C747.5 728.2 746.7 733.6 746.4 739.1C746.1 744.6 746.1 750.1 747.2 755.6C748.3 761.1 750.4 766.5 753.0 772.0C755.6 777.5 759.9 783.3 762.9 788.5C765.9 793.7 769.0 798.1 771.1 803.3C773.2 808.5 774.2 814.9 775.2 819.7C776.2 824.5 776.7 827.5 776.8 832.0C776.9 836.5 777.0 839.9 776.0 846.4C775.0 852.9 772.8 862.9 771.1 871.1C769.5 879.3 767.3 887.6 766.1 895.8C764.9 904.0 764.2 912.3 763.7 920.5C763.2 928.7 763.0 932.8 762.9 945.1C762.8 957.4 762.8 978.0 762.9 994.5C763.0 1011.0 763.3 1027.3 763.7 1043.8C764.1 1060.2 764.9 1080.5 765.3 1093.2C765.7 1105.9 765.4 1111.0 766.1 1120.0C766.9 1129.0 768.2 1128.1 769.8 1147.5C771.4 1166.9 774.0 1217.5 775.7 1236.6C777.4 1255.7 778.7 1255.4 780.0 1262.0C781.3 1268.6 782.4 1276.0 783.6 1276.0C784.8 1276.0 785.9 1268.6 787.0 1262.0C788.1 1255.4 788.7 1255.7 790.5 1236.6C792.3 1217.5 796.3 1166.9 798.0 1147.5C799.7 1128.1 800.2 1129.0 800.7 1120.0C801.2 1111.0 800.4 1105.9 800.7 1093.2C801.0 1080.5 801.8 1060.2 802.3 1043.8C802.8 1027.3 803.5 1011.0 804.0 994.5C804.5 978.0 805.1 957.4 805.6 945.1C806.1 932.8 806.5 928.7 807.3 920.5C808.1 912.3 809.2 904.0 810.6 895.8C812.0 887.6 814.0 879.3 815.5 871.1C817.0 862.9 818.7 853.3 819.6 846.4C820.5 839.5 820.7 835.1 820.7 829.6C820.7 824.1 820.8 818.7 819.6 813.2C818.5 807.7 816.1 801.9 813.8 796.7C811.5 791.5 808.2 787.1 805.6 781.9C803.0 776.7 800.0 771.2 798.2 765.5C796.4 759.8 795.5 753.4 794.9 747.4C794.3 741.4 794.3 735.1 794.9 729.3C795.5 723.5 796.7 718.0 798.2 712.8C799.7 707.6 801.4 702.9 804.0 698.0C806.6 693.1 810.9 688.1 813.8 683.2C816.7 678.3 819.5 673.6 821.2 668.4C822.9 663.2 823.7 657.2 824.0 652.0C824.3 646.8 824.0 642.4 822.9 637.2C821.8 632.0 819.4 626.2 817.1 620.7C814.8 615.2 811.4 610.6 808.9 604.3C806.4 598.0 803.9 589.8 802.3 582.9C800.6 576.0 799.3 568.8 799.0 563.2C798.7 557.7 800.2 554.6 800.7 549.6C801.2 544.6 801.2 537.9 802.3 533.2C803.4 528.5 805.1 525.7 807.3 521.6C809.5 517.5 812.8 512.6 815.5 508.5C818.2 504.4 821.5 501.1 823.7 497.0C825.9 492.9 827.4 488.7 828.6 483.8C829.8 478.9 830.7 472.3 831.1 467.4C831.5 462.5 831.5 458.6 831.1 454.2C830.7 449.8 829.8 445.4 828.6 441.0C827.4 436.6 825.6 432.3 823.7 427.9C821.8 423.5 819.0 419.1 817.1 414.7C815.2 410.3 813.2 406.0 812.2 401.6C811.2 397.2 811.1 392.8 811.4 388.4C811.7 384.0 812.6 379.7 813.8 375.3C815.0 370.9 817.1 366.5 818.8 362.1C820.4 357.7 822.5 353.4 823.7 349.0C824.9 344.6 825.9 340.8 826.2 335.8C826.5 330.9 826.1 324.2 825.4 319.3C824.7 314.4 823.8 310.3 822.1 306.2C820.5 302.1 818.8 297.4 815.5 294.7C812.2 291.9 805.5 290.7 802.3 289.7C799.0 288.7 801.0 288.7 796.0 288.5C791.0 288.3 777.0 288.3 772.0 288.5Z" fill="#f85002"/>
<ellipse cx="784.0" cy="290" rx="21" ry="13.5" fill="url(#hotg)"/>
<path d="M733.3 279.9C733.6 283.7 734.8 296.3 734.9 302.9C735.0 309.5 734.9 313.3 734.1 319.3C733.3 325.3 731.5 332.4 730.0 339.0C728.5 345.6 726.4 352.5 725.0 358.8C723.6 365.1 722.1 370.9 721.7 376.9C721.3 382.9 721.2 389.5 722.6 395.0C724.0 400.5 726.6 405.7 730.0 409.8C733.4 413.9 738.7 416.4 743.1 419.7C747.5 423.0 752.9 425.7 756.3 429.5C759.7 433.3 762.1 437.8 763.7 442.7C765.3 447.6 765.8 453.6 766.1 459.1C766.4 464.6 766.1 469.3 765.3 475.6C764.5 481.9 763.8 490.7 761.2 497.0C758.6 503.3 753.8 508.5 749.7 513.4C745.6 518.3 740.1 521.9 736.5 526.6C732.9 531.3 730.3 536.7 728.3 541.4C726.2 546.1 724.9 550.8 724.2 555.0C723.5 559.2 723.5 561.8 724.2 566.4C724.9 571.0 725.7 577.7 728.3 582.9C730.9 588.1 735.4 593.3 739.8 597.7C744.2 602.1 750.6 605.1 754.6 609.2C758.6 613.3 761.7 617.5 763.7 622.4C765.7 627.3 766.2 632.8 766.5 638.8C766.8 644.8 766.3 652.0 765.3 658.6C764.3 665.2 763.3 672.3 760.4 678.3C757.5 684.3 752.4 689.5 748.1 694.7C743.9 699.9 738.5 704.0 734.9 709.5C731.3 715.0 728.6 721.3 726.7 727.6C724.8 733.9 723.4 741.4 723.4 747.4C723.4 753.4 724.2 758.6 726.7 763.8C729.2 769.0 733.8 774.2 738.2 778.6C742.6 783.0 748.9 786.0 753.0 790.1C757.1 794.2 760.6 798.4 762.9 803.3C765.1 808.2 766.0 814.9 766.5 819.7C767.0 824.5 766.4 827.5 766.1 832.0C765.8 836.5 765.5 840.7 764.5 846.4C763.5 852.1 762.0 859.9 760.4 866.2C758.8 872.5 756.2 878.3 754.6 884.3C753.0 890.3 751.6 896.1 750.5 902.4C749.4 908.7 748.6 915.0 748.1 922.1C747.6 929.2 747.1 937.2 747.2 945.1C747.3 953.0 748.5 961.6 748.9 969.8C749.3 978.0 749.8 987.6 749.7 994.5C749.6 1001.4 748.5 1004.0 748.1 1010.9C747.7 1017.8 747.1 1027.4 747.2 1035.6C747.3 1043.8 748.5 1052.1 748.9 1060.3C749.3 1068.5 749.8 1075.0 749.7 1084.9C749.6 1094.9 748.5 1104.6 748.1 1120.0C747.7 1135.4 747.4 1157.8 747.5 1177.2C747.6 1196.6 749.0 1215.4 749.0 1236.6C749.0 1257.8 747.0 1285.8 747.5 1304.6C748.0 1323.4 751.2 1334.3 751.9 1349.2C752.6 1364.1 751.1 1382.3 751.9 1393.7C752.6 1405.1 753.7 1411.0 756.4 1417.5C759.1 1424.0 763.8 1428.9 768.3 1432.4C772.8 1435.9 778.5 1438.3 783.7 1438.3C788.9 1438.3 794.6 1435.9 799.5 1432.4C804.4 1428.9 809.8 1424.0 812.8 1417.5C815.8 1411.0 816.5 1405.1 817.3 1393.7C818.0 1382.3 816.8 1364.1 817.3 1349.2C817.8 1334.3 820.0 1319.5 820.3 1304.6C820.5 1289.7 819.0 1276.3 818.8 1260.0C818.5 1243.7 818.8 1225.7 818.8 1206.9C818.8 1188.2 818.9 1162.0 818.8 1147.5C818.7 1133.0 818.1 1131.8 818.0 1120.0C817.9 1108.2 817.7 1089.4 818.0 1076.7C818.3 1064.0 819.5 1054.8 819.6 1043.8C819.7 1032.8 819.2 1021.9 818.8 1010.9C818.4 999.9 817.2 989.0 817.1 978.0C817.0 967.0 817.9 955.5 818.0 945.1C818.1 934.7 817.7 923.2 818.0 915.5C818.3 907.8 818.6 904.3 819.6 899.1C820.6 893.9 821.4 889.0 823.7 884.3C826.0 879.6 830.5 876.0 833.6 871.1C836.8 866.2 840.7 859.9 842.6 854.7C844.5 849.5 845.0 844.4 845.1 839.9C845.2 835.4 844.4 832.7 843.4 828.0C842.4 823.3 841.5 816.7 839.3 811.5C837.1 806.3 834.0 801.4 830.3 796.7C826.6 792.1 821.2 788.2 817.1 783.6C813.0 779.0 808.3 774.3 805.6 768.8C802.9 763.3 801.7 757.0 800.7 750.7C799.8 744.4 799.6 736.9 799.9 730.9C800.2 724.9 800.5 719.4 802.3 714.5C804.1 709.6 806.4 705.4 810.5 701.3C814.6 697.2 822.0 694.4 827.0 689.8C832.0 685.1 837.4 678.9 840.2 673.4C843.0 667.9 843.3 661.8 843.8 656.9C844.3 652.0 844.3 648.7 843.4 643.8C842.5 638.9 841.0 632.5 838.5 627.3C836.0 622.1 832.4 617.2 828.6 612.5C824.8 607.8 819.5 604.2 815.5 599.3C811.5 594.4 807.3 588.4 804.8 582.9C802.3 577.4 801.4 571.0 800.7 566.4C800.0 561.8 800.6 559.2 800.7 555.0C800.8 550.8 800.7 546.1 801.5 541.4C802.3 536.7 803.0 531.0 805.6 526.6C808.2 522.2 812.7 518.9 817.1 515.1C821.5 511.3 827.8 508.3 831.9 503.6C836.0 498.9 839.8 493.1 841.8 487.1C843.8 481.1 844.1 473.4 843.8 467.4C843.5 461.4 842.2 455.8 840.2 450.9C838.2 446.0 835.2 442.2 831.9 437.8C828.6 433.4 824.2 429.0 820.4 424.6C816.6 420.2 811.6 416.1 808.9 411.4C806.2 406.7 805.4 402.4 804.0 396.6C802.6 390.9 801.5 383.8 800.7 376.9C799.9 370.0 799.6 361.8 799.0 355.5C798.4 349.2 797.1 343.1 797.1 339.0C797.1 334.9 797.3 333.6 799.0 330.9C800.7 328.2 803.7 325.6 807.3 322.6C810.9 319.6 816.8 316.6 820.4 312.8C824.0 309.0 826.8 305.1 828.6 299.6C830.4 294.1 830.7 283.2 831.1 279.9" fill="none" stroke="#8e1400" stroke-width="2.5" stroke-linejoin="round"/><path d="M733.3 279.9C733.6 283.7 734.8 296.3 734.9 302.9C735.0 309.5 734.9 313.3 734.1 319.3C733.3 325.3 731.5 332.4 730.0 339.0C728.5 345.6 726.4 352.5 725.0 358.8C723.6 365.1 722.1 370.9 721.7 376.9C721.3 382.9 721.2 389.5 722.6 395.0C724.0 400.5 726.6 405.7 730.0 409.8C733.4 413.9 738.7 416.4 743.1 419.7C747.5 423.0 752.9 425.7 756.3 429.5C759.7 433.3 762.1 437.8 763.7 442.7C765.3 447.6 765.8 453.6 766.1 459.1C766.4 464.6 766.1 469.3 765.3 475.6C764.5 481.9 763.8 490.7 761.2 497.0C758.6 503.3 753.8 508.5 749.7 513.4C745.6 518.3 740.1 521.9 736.5 526.6C732.9 531.3 730.3 536.7 728.3 541.4C726.2 546.1 724.9 550.8 724.2 555.0C723.5 559.2 723.5 561.8 724.2 566.4C724.9 571.0 725.7 577.7 728.3 582.9C730.9 588.1 735.4 593.3 739.8 597.7C744.2 602.1 750.6 605.1 754.6 609.2C758.6 613.3 761.7 617.5 763.7 622.4C765.7 627.3 766.2 632.8 766.5 638.8C766.8 644.8 766.3 652.0 765.3 658.6C764.3 665.2 763.3 672.3 760.4 678.3C757.5 684.3 752.4 689.5 748.1 694.7C743.9 699.9 738.5 704.0 734.9 709.5C731.3 715.0 728.6 721.3 726.7 727.6C724.8 733.9 723.4 741.4 723.4 747.4C723.4 753.4 724.2 758.6 726.7 763.8C729.2 769.0 733.8 774.2 738.2 778.6C742.6 783.0 748.9 786.0 753.0 790.1C757.1 794.2 760.6 798.4 762.9 803.3C765.1 808.2 766.0 814.9 766.5 819.7C767.0 824.5 766.4 827.5 766.1 832.0C765.8 836.5 765.5 840.7 764.5 846.4C763.5 852.1 762.0 859.9 760.4 866.2C758.8 872.5 756.2 878.3 754.6 884.3C753.0 890.3 751.6 896.1 750.5 902.4C749.4 908.7 748.6 915.0 748.1 922.1C747.6 929.2 747.1 937.2 747.2 945.1C747.3 953.0 748.5 961.6 748.9 969.8C749.3 978.0 749.8 987.6 749.7 994.5C749.6 1001.4 748.5 1004.0 748.1 1010.9C747.7 1017.8 747.1 1027.4 747.2 1035.6C747.3 1043.8 748.5 1052.1 748.9 1060.3C749.3 1068.5 749.8 1075.0 749.7 1084.9C749.6 1094.9 748.5 1104.6 748.1 1120.0C747.7 1135.4 747.4 1157.8 747.5 1177.2C747.6 1196.6 749.0 1215.4 749.0 1236.6C749.0 1257.8 747.0 1285.8 747.5 1304.6C748.0 1323.4 751.2 1334.3 751.9 1349.2C752.6 1364.1 751.1 1382.3 751.9 1393.7C752.6 1405.1 753.7 1411.0 756.4 1417.5C759.1 1424.0 763.8 1428.9 768.3 1432.4C772.8 1435.9 778.5 1438.3 783.7 1438.3C788.9 1438.3 794.6 1435.9 799.5 1432.4C804.4 1428.9 809.8 1424.0 812.8 1417.5C815.8 1411.0 816.5 1405.1 817.3 1393.7C818.0 1382.3 816.8 1364.1 817.3 1349.2C817.8 1334.3 820.0 1319.5 820.3 1304.6C820.5 1289.7 819.0 1276.3 818.8 1260.0C818.5 1243.7 818.8 1225.7 818.8 1206.9C818.8 1188.2 818.9 1162.0 818.8 1147.5C818.7 1133.0 818.1 1131.8 818.0 1120.0C817.9 1108.2 817.7 1089.4 818.0 1076.7C818.3 1064.0 819.5 1054.8 819.6 1043.8C819.7 1032.8 819.2 1021.9 818.8 1010.9C818.4 999.9 817.2 989.0 817.1 978.0C817.0 967.0 817.9 955.5 818.0 945.1C818.1 934.7 817.7 923.2 818.0 915.5C818.3 907.8 818.6 904.3 819.6 899.1C820.6 893.9 821.4 889.0 823.7 884.3C826.0 879.6 830.5 876.0 833.6 871.1C836.8 866.2 840.7 859.9 842.6 854.7C844.5 849.5 845.0 844.4 845.1 839.9C845.2 835.4 844.4 832.7 843.4 828.0C842.4 823.3 841.5 816.7 839.3 811.5C837.1 806.3 834.0 801.4 830.3 796.7C826.6 792.1 821.2 788.2 817.1 783.6C813.0 779.0 808.3 774.3 805.6 768.8C802.9 763.3 801.7 757.0 800.7 750.7C799.8 744.4 799.6 736.9 799.9 730.9C800.2 724.9 800.5 719.4 802.3 714.5C804.1 709.6 806.4 705.4 810.5 701.3C814.6 697.2 822.0 694.4 827.0 689.8C832.0 685.1 837.4 678.9 840.2 673.4C843.0 667.9 843.3 661.8 843.8 656.9C844.3 652.0 844.3 648.7 843.4 643.8C842.5 638.9 841.0 632.5 838.5 627.3C836.0 622.1 832.4 617.2 828.6 612.5C824.8 607.8 819.5 604.2 815.5 599.3C811.5 594.4 807.3 588.4 804.8 582.9C802.3 577.4 801.4 571.0 800.7 566.4C800.0 561.8 800.6 559.2 800.7 555.0C800.8 550.8 800.7 546.1 801.5 541.4C802.3 536.7 803.0 531.0 805.6 526.6C808.2 522.2 812.7 518.9 817.1 515.1C821.5 511.3 827.8 508.3 831.9 503.6C836.0 498.9 839.8 493.1 841.8 487.1C843.8 481.1 844.1 473.4 843.8 467.4C843.5 461.4 842.2 455.8 840.2 450.9C838.2 446.0 835.2 442.2 831.9 437.8C828.6 433.4 824.2 429.0 820.4 424.6C816.6 420.2 811.6 416.1 808.9 411.4C806.2 406.7 805.4 402.4 804.0 396.6C802.6 390.9 801.5 383.8 800.7 376.9C799.9 370.0 799.6 361.8 799.0 355.5C798.4 349.2 797.1 343.1 797.1 339.0C797.1 334.9 797.3 333.6 799.0 330.9C800.7 328.2 803.7 325.6 807.3 322.6C810.9 319.6 816.8 316.6 820.4 312.8C824.0 309.0 826.8 305.1 828.6 299.6C830.4 294.1 830.7 283.2 831.1 279.9" fill="none" stroke="#e8b0a8" stroke-opacity="0.4" stroke-width="1.0" stroke-dasharray="9 33" stroke-dashoffset="-20"/>
</g>
<path d="M712.0 280.6 V1660.0 M855.6 280.6 V1660.0" stroke="#a07028" stroke-opacity="0.85" stroke-width="1.4" fill="none"/><path d="M711.6 280.9 H767.0 M801.0 280.9 H856.0" stroke="#7a2a10" stroke-width="1" fill="none"/>
<path d="M711.6 236.4 L764.0 236.4 Q777.4 236.6 777.4 246.6 L777.4 274.5 L774.5 274.0 Q771.5 262.0 765.5 259.0 L711.6 259.0 Z" fill="#00aaf5"/>
<path d="M711.6 258.8 L765.5 258.8 Q771.7 262.0 774.2 273.0 L777.4 274.0 L777.4 281.2 L767.4 281.2 L766.0 270.0 Q765.4 266.2 762.0 266.2 L711.6 266.2 Z" fill="#8b0b00"/>
<path d="M711.6 235.9 L764.0 235.9 Q777.6 236.2 777.6 246.6 L777.6 288.6" fill="none" stroke="#f020d8" stroke-width="1.5"/>
<path d="M711.6 266.9 L762.0 266.9 Q765.1 266.9 765.6 270.0 L766.8 279.4 L711.6 279.4" fill="none" stroke="#e000c0" stroke-width="1.7"/>
<path d="M775.4 281.6 L760.5 281.6 Q761.5 288.4 768.5 288.6 L775.4 288.6 Z" fill="#2fd814" stroke="#5a3a00" stroke-width="0.8"/>
<rect x="769.1" y="283" width="5" height="4.6" fill="#0a5c06"/>
<path d="M856.0 236.4 L804.0 236.4 Q790.6 236.6 790.6 246.6 L790.6 274.5 L793.5 274.0 Q796.5 262.0 802.5 259.0 L856.0 259.0 Z" fill="#00aaf5"/>
<path d="M856.0 258.8 L802.5 258.8 Q796.3 262.0 793.8 273.0 L790.6 274.0 L790.6 281.2 L800.6 281.2 L802.0 270.0 Q802.6 266.2 806.0 266.2 L856.0 266.2 Z" fill="#8b0b00"/>
<path d="M856.0 235.9 L804.0 235.9 Q790.4 236.2 790.4 246.6 L790.4 288.6" fill="none" stroke="#f020d8" stroke-width="1.5"/>
<path d="M856.0 266.9 L806.0 266.9 Q802.9 266.9 802.4 270.0 L801.2 279.4 L856.0 279.4" fill="none" stroke="#e000c0" stroke-width="1.7"/>
<path d="M792.6 281.6 L807.5 281.6 Q806.5 288.4 799.5 288.6 L792.6 288.6 Z" fill="#2fd814" stroke="#5a3a00" stroke-width="0.8"/>
<rect x="793.8" y="283" width="5" height="4.6" fill="#0a5c06"/>
<path d="M776.6 288.9 L791.4 288.9" stroke="#f010b0" stroke-width="1.6"/>
<rect x="780.6" y="314.6" width="7" height="29.0" fill="#f60000"/><rect x="780.6" y="365.2" width="7" height="29.0" fill="#f60000"/><rect x="780.6" y="415.8" width="7" height="29.0" fill="#f60000"/><rect x="780.6" y="466.4" width="7" height="29.0" fill="#f60000"/><rect x="780.6" y="517.0" width="7" height="29.0" fill="#f60000"/><rect x="780.6" y="567.6" width="7" height="29.0" fill="#f60000"/><rect x="780.6" y="618.2" width="7" height="29.0" fill="#f60000"/><rect x="780.6" y="668.8" width="7" height="29.0" fill="#f60000"/><rect x="780.6" y="719.4" width="7" height="29.0" fill="#f60000"/><rect x="780.6" y="770.0" width="7" height="29.0" fill="#f60000"/><rect x="780.6" y="820.6" width="7" height="29.0" fill="#f60000"/><rect x="780.6" y="871.2" width="7" height="29.0" fill="#f60000"/><rect x="780.6" y="921.8" width="7" height="29.0" fill="#f60000"/><rect x="780.6" y="972.4" width="7" height="29.0" fill="#f60000"/><rect x="780.6" y="1023.0" width="7" height="29.0" fill="#f60000"/><rect x="780.6" y="1073.6" width="7" height="29.0" fill="#f60000"/><rect x="780.6" y="1124.2" width="7" height="29.0" fill="#f60000"/><rect x="780.6" y="1174.8" width="7" height="29.0" fill="#f60000"/><rect x="780.6" y="1225.4" width="7" height="29.0" fill="#f60000"/><rect x="780.6" y="1276.0" width="7" height="29.0" fill="#f60000"/><rect x="780.6" y="1326.6" width="7" height="29.0" fill="#f60000"/><rect x="780.6" y="1377.2" width="7" height="29.0" fill="#f60000"/><rect x="780.6" y="1427.8" width="7" height="29.0" fill="#f60000"/><rect x="780.6" y="1478.4" width="7" height="29.0" fill="#f60000"/><rect x="780.6" y="1529.0" width="7" height="29.0" fill="#f60000"/><rect x="780.6" y="1579.6" width="7" height="29.0" fill="#f60000"/><rect x="780.6" y="1630.2" width="7" height="29.0" fill="#f60000"/>
</g>
<g stroke="#000" stroke-width="8.6" fill="none" stroke-linecap="butt">
<rect x="238.0" y="63.0" width="2146.0" height="1728.0"/>
<line x1="238.0" y1="1658.6" x2="272.0" y2="1658.6"/>
<line x1="238.0" y1="1392.7" x2="272.0" y2="1392.7"/>
<line x1="238.0" y1="1126.7" x2="272.0" y2="1126.7"/>
<line x1="238.0" y1="860.8" x2="272.0" y2="860.8"/>
<line x1="238.0" y1="594.9" x2="272.0" y2="594.9"/>
<line x1="238.0" y1="328.9" x2="272.0" y2="328.9"/>
<line x1="774.5" y1="1791.0" x2="774.5" y2="1757.0"/>
<line x1="1311.0" y1="1791.0" x2="1311.0" y2="1757.0"/>
<line x1="1847.5" y1="1791.0" x2="1847.5" y2="1757.0"/>
</g>
<defs><clipPath id="plotclip"><rect x="234.0" y="63.0" width="2151.0" height="1728.0"/></clipPath></defs>
<defs><filter id="cblur" filterUnits="userSpaceOnUse" x="0" y="0" width="2469" height="2088"><feGaussianBlur stdDeviation="0.9"/></filter></defs>
<g clip-path="url(#plotclip)"><g fill="none" stroke-linejoin="round" stroke-linecap="round" filter="url(#cblur)">
<path d="M240.9 1657.7C242.7 1656.8 246.0 1654.6 251.6 1652.1C257.2 1649.6 268.2 1645.3 274.6 1642.7C281.0 1640.1 283.6 1638.7 290.0 1636.4C296.4 1634.0 306.6 1630.7 313.0 1628.6C319.4 1626.5 323.2 1625.7 328.3 1623.7C333.4 1621.7 339.9 1618.7 343.7 1616.8C347.5 1614.9 348.8 1614.2 351.3 1612.2C353.9 1610.2 356.4 1607.4 359.0 1604.6C361.6 1601.8 364.1 1598.7 366.7 1595.4C369.2 1592.1 371.8 1588.2 374.3 1584.6C376.9 1581.0 379.4 1577.5 382.0 1573.9C384.6 1570.3 387.3 1566.7 389.7 1563.2C392.1 1559.6 394.1 1556.2 396.3 1552.6C398.5 1549.0 400.6 1545.3 402.8 1541.6C405.0 1537.8 406.9 1533.9 409.3 1530.1C411.7 1526.3 414.4 1522.9 417.0 1519.0C419.6 1515.1 422.1 1510.8 424.7 1506.8C427.2 1502.8 429.8 1498.9 432.3 1495.3C434.9 1491.7 437.4 1488.4 440.0 1485.3C442.6 1482.2 445.1 1479.4 447.7 1476.8C450.2 1474.2 452.8 1472.2 455.3 1469.9C457.9 1467.6 460.4 1465.2 463.0 1463.0C465.6 1460.8 468.1 1458.8 470.7 1456.9C473.2 1455.0 475.8 1453.2 478.3 1451.5C480.9 1449.8 482.3 1448.9 486.0 1446.9C489.7 1444.9 494.6 1442.0 500.3 1439.3C506.0 1436.6 513.7 1433.4 520.2 1430.6C526.6 1427.8 531.4 1425.1 539.0 1422.5C546.6 1419.9 557.0 1417.2 565.9 1415.0C574.8 1412.8 581.5 1411.4 592.7 1409.1C603.9 1406.8 617.3 1404.3 633.0 1401.0C648.7 1397.7 668.8 1392.8 686.7 1389.1C704.6 1385.4 723.1 1381.8 740.4 1378.6C757.7 1375.4 777.8 1371.9 790.3 1369.7C802.8 1367.4 804.4 1367.4 815.3 1365.1C826.2 1362.8 843.1 1359.0 855.7 1355.9C868.3 1352.8 880.0 1349.7 891.0 1346.3C902.0 1342.9 911.5 1339.2 921.7 1335.5C931.9 1331.8 942.1 1328.0 952.3 1324.0C962.5 1320.0 972.8 1315.5 983.0 1311.6C993.2 1307.7 1003.5 1303.7 1013.7 1300.7C1023.9 1297.7 1034.2 1296.1 1044.4 1293.7C1054.6 1291.3 1064.9 1289.0 1075.1 1286.3C1085.3 1283.6 1095.5 1280.7 1105.7 1277.7C1115.9 1274.7 1127.1 1271.5 1136.4 1268.3C1145.7 1265.1 1153.6 1262.2 1161.4 1258.6C1169.1 1255.0 1176.2 1250.7 1182.9 1246.7C1189.6 1242.7 1195.3 1238.6 1201.6 1234.6C1207.9 1230.6 1213.8 1226.3 1220.6 1222.5C1227.3 1218.8 1234.1 1215.5 1242.3 1211.9C1250.4 1208.4 1260.4 1204.4 1269.4 1201.2C1278.4 1197.9 1287.4 1195.1 1296.4 1192.4C1305.3 1189.8 1314.3 1187.7 1323.3 1185.2C1332.3 1182.6 1341.4 1180.1 1350.4 1177.2C1359.4 1174.4 1369.7 1171.0 1377.4 1167.9C1385.0 1164.8 1391.3 1161.9 1396.3 1158.5C1401.3 1155.2 1404.1 1151.6 1407.3 1147.8C1410.5 1144.0 1412.6 1139.6 1415.3 1135.8C1418.0 1132.0 1419.8 1128.4 1423.4 1125.0C1427.0 1121.6 1431.0 1118.7 1436.8 1115.6C1442.6 1112.5 1450.2 1109.3 1458.3 1106.2C1466.3 1103.1 1476.2 1099.7 1485.1 1096.8C1494.0 1093.9 1502.9 1091.7 1511.9 1088.8C1520.8 1085.9 1531.0 1083.0 1538.8 1079.4C1546.6 1075.8 1554.0 1071.3 1558.9 1067.3C1563.8 1063.3 1566.1 1059.0 1568.1 1055.2C1570.1 1051.4 1570.5 1048.3 1570.8 1044.5C1571.1 1040.7 1569.3 1036.2 1570.2 1032.4C1571.1 1028.6 1572.4 1025.3 1576.1 1021.7C1579.8 1018.1 1585.0 1014.7 1592.2 1010.9C1599.4 1007.1 1609.2 1003.1 1619.1 998.9C1628.9 994.6 1642.8 989.4 1651.3 985.4C1659.8 981.4 1665.7 978.3 1670.1 974.7C1674.5 971.1 1676.5 968.0 1677.6 964.0C1678.7 960.0 1677.2 955.0 1676.8 950.5C1676.3 946.0 1674.7 941.4 1674.9 937.1C1675.1 932.9 1675.8 928.3 1678.1 925.0C1680.4 921.7 1684.3 919.8 1689.0 917.3C1693.7 914.8 1699.0 913.0 1706.0 910.3C1713.0 907.6 1722.8 903.9 1731.0 901.3C1739.2 898.7 1747.6 897.6 1755.3 894.6C1763.0 891.6 1772.2 886.5 1777.2 883.2C1782.2 879.9 1784.8 878.0 1785.4 874.8C1786.0 871.6 1783.5 867.6 1781.0 864.0C1778.5 860.4 1773.0 856.9 1770.3 853.3C1767.6 849.7 1765.1 846.2 1764.9 842.6C1764.7 839.0 1765.6 835.6 1768.9 831.8C1772.2 828.0 1777.8 823.7 1785.0 819.7C1792.2 815.7 1803.9 811.5 1811.9 807.7C1820.0 803.9 1828.2 800.3 1833.3 796.9C1838.4 793.5 1841.4 790.2 1842.7 787.5C1844.0 784.8 1843.4 783.9 1841.4 780.8C1839.4 777.7 1834.7 772.7 1830.7 768.7C1826.7 764.7 1819.9 760.2 1817.2 756.6C1814.5 753.0 1814.7 749.9 1814.5 747.2C1814.3 744.5 1813.8 743.4 1815.8 740.5C1817.8 737.6 1820.8 733.6 1826.6 729.8C1832.4 726.0 1842.7 721.7 1850.7 717.7C1858.8 713.7 1869.6 709.2 1874.9 705.6C1880.2 702.0 1882.0 699.3 1882.4 696.2C1882.9 693.1 1881.5 690.4 1877.6 686.8C1873.7 683.2 1864.6 678.9 1858.8 674.8C1853.0 670.7 1846.7 666.1 1842.7 662.2C1838.7 658.3 1833.3 656.0 1834.6 651.5C1835.9 647.0 1843.1 640.8 1850.7 635.4C1858.3 630.0 1874.2 623.8 1880.3 619.3C1886.3 614.8 1886.5 611.6 1887.0 608.5C1887.5 605.4 1887.2 604.1 1883.0 600.5C1878.8 596.9 1870.0 591.7 1861.5 587.0C1853.0 582.3 1838.3 576.8 1832.0 572.3C1825.7 567.8 1823.0 564.7 1823.9 560.2C1824.8 555.7 1830.2 550.3 1837.3 545.4C1844.4 540.5 1860.3 535.0 1866.8 530.7C1873.3 526.5 1876.2 523.5 1876.2 519.9C1876.2 516.3 1873.3 513.5 1866.8 509.2C1860.3 504.9 1847.1 499.1 1837.3 494.4C1827.5 489.7 1814.1 484.8 1807.8 481.0C1801.5 477.2 1800.2 474.7 1799.7 471.6C1799.2 468.5 1800.6 465.8 1805.1 462.2C1809.6 458.6 1817.6 454.8 1826.6 450.1C1835.5 445.4 1852.1 438.5 1858.8 434.0C1865.5 429.5 1867.7 427.8 1866.8 423.3C1865.9 418.8 1859.2 412.1 1853.4 407.2C1847.6 402.3 1837.0 398.2 1832.0 393.8C1827.0 389.4 1823.1 384.8 1823.2 380.7C1823.3 376.6 1826.2 373.3 1832.6 369.2C1839.0 365.1 1851.8 359.9 1861.4 356.3C1871.0 352.7 1880.5 350.6 1890.1 347.7C1899.7 344.8 1909.3 342.4 1918.9 339.0C1928.5 335.6 1940.8 330.2 1947.6 327.5C1954.4 324.8 1953.4 324.8 1960.0 322.5C1966.6 320.2 1978.5 316.3 1987.2 313.5C1995.9 310.7 2001.8 308.2 2012.2 305.9C2022.6 303.6 2035.1 301.8 2049.6 299.8C2064.1 297.8 2082.8 295.7 2099.4 294.1C2116.0 292.5 2128.5 291.5 2149.3 290.3C2170.1 289.1 2199.1 287.8 2224.0 286.8C2248.9 285.8 2272.2 285.1 2298.8 284.3C2325.4 283.5 2366.6 282.3 2383.5 281.8C2400.4 281.3 2397.2 281.6 2400.0 281.5" stroke="#000" stroke-width="7.9"/>
<path d="M240.6 1657.6C242.4 1656.7 245.7 1654.5 251.3 1652.0C256.9 1649.5 267.9 1645.2 274.3 1642.6C280.7 1640.0 283.3 1638.6 289.7 1636.3C296.1 1634.0 306.3 1630.6 312.7 1628.5C319.1 1626.4 322.9 1625.6 328.0 1623.6C333.1 1621.6 339.6 1618.6 343.4 1616.7C347.2 1614.8 348.4 1614.1 351.0 1612.1C353.6 1610.1 356.1 1607.3 358.7 1604.5C361.3 1601.7 363.8 1598.6 366.4 1595.3C368.9 1592.0 371.4 1588.1 374.0 1584.5C376.6 1580.9 379.1 1577.4 381.7 1573.8C384.3 1570.2 387.0 1566.6 389.4 1563.1C391.8 1559.5 393.8 1556.1 396.0 1552.5C398.2 1548.9 400.3 1545.2 402.5 1541.5C404.7 1537.8 406.6 1533.8 409.0 1530.0C411.4 1526.2 414.1 1522.8 416.7 1518.9C419.3 1515.0 421.8 1510.7 424.4 1506.7C426.9 1502.8 429.4 1498.8 432.0 1495.2C434.6 1491.6 437.1 1488.3 439.7 1485.2C442.3 1482.1 444.8 1479.3 447.4 1476.7C449.9 1474.1 452.4 1472.1 455.0 1469.8C457.6 1467.5 460.1 1465.1 462.7 1462.9C465.3 1460.7 467.8 1458.7 470.4 1456.8C472.9 1454.9 475.4 1453.1 478.0 1451.4C480.6 1449.7 482.0 1448.8 485.7 1446.8C489.4 1444.8 494.3 1441.9 500.0 1439.2C505.7 1436.5 513.4 1433.3 519.9 1430.5C526.4 1427.7 531.1 1425.0 538.7 1422.4C546.3 1419.8 556.7 1417.1 565.6 1414.9C574.5 1412.7 581.2 1411.3 592.4 1409.0C603.6 1406.7 617.0 1404.2 632.7 1400.9C648.4 1397.6 668.5 1392.7 686.4 1389.0C704.3 1385.3 722.8 1381.7 740.1 1378.5C757.4 1375.3 777.5 1371.8 790.0 1369.6C802.5 1367.3 804.1 1367.3 815.0 1365.0C825.9 1362.7 842.8 1358.9 855.4 1355.8C868.0 1352.7 879.7 1349.6 890.7 1346.2C901.7 1342.8 911.2 1339.1 921.4 1335.4C931.6 1331.7 941.8 1327.9 952.0 1323.9C962.2 1319.9 972.5 1315.4 982.7 1311.5C992.9 1307.6 1003.2 1303.6 1013.4 1300.6C1023.6 1297.6 1033.9 1296.0 1044.1 1293.6C1054.3 1291.2 1064.6 1288.9 1074.8 1286.2C1085.0 1283.5 1095.2 1280.6 1105.4 1277.6C1115.6 1274.6 1126.8 1271.4 1136.1 1268.2C1145.4 1265.0 1153.3 1262.1 1161.1 1258.5C1168.8 1254.9 1175.9 1250.6 1182.6 1246.6C1189.3 1242.6 1195.0 1238.5 1201.3 1234.5C1207.5 1230.5 1213.4 1226.2 1220.1 1222.4C1226.8 1218.6 1233.5 1215.3 1241.6 1211.7C1249.7 1208.1 1259.5 1204.2 1268.5 1200.9C1277.5 1197.6 1286.4 1194.8 1295.3 1192.1C1304.2 1189.4 1313.1 1187.3 1322.1 1184.8C1331.0 1182.2 1340.0 1179.7 1349.0 1176.8C1358.0 1173.9 1368.2 1170.5 1375.8 1167.4C1383.4 1164.3 1389.7 1161.4 1394.6 1158.0C1399.5 1154.6 1402.3 1151.0 1405.4 1147.2C1408.5 1143.4 1410.7 1139.0 1413.4 1135.2C1416.1 1131.4 1417.9 1127.8 1421.5 1124.4C1425.1 1121.0 1429.1 1118.1 1434.9 1115.0C1440.7 1111.9 1448.4 1108.7 1456.4 1105.6C1464.5 1102.5 1474.3 1099.1 1483.2 1096.2C1492.1 1093.3 1501.0 1091.1 1510.0 1088.2C1519.0 1085.3 1529.1 1082.4 1536.9 1078.8C1544.7 1075.2 1552.1 1070.7 1557.0 1066.7C1561.9 1062.7 1564.2 1058.4 1566.2 1054.6C1568.2 1050.8 1568.6 1047.7 1568.9 1043.9C1569.2 1040.1 1567.4 1035.6 1568.3 1031.8C1569.2 1028.0 1570.5 1024.7 1574.2 1021.1C1577.9 1017.5 1583.1 1014.1 1590.3 1010.3C1597.5 1006.5 1607.3 1002.5 1617.2 998.3C1627.1 994.0 1640.9 988.8 1649.4 984.8C1657.9 980.8 1663.8 977.7 1668.2 974.1C1672.6 970.5 1674.6 967.4 1675.7 963.4C1676.8 959.4 1675.4 954.4 1674.9 949.9C1674.5 945.4 1672.8 940.8 1673.0 936.5C1673.2 932.2 1673.9 928.0 1676.2 924.4C1678.5 920.8 1681.6 918.4 1687.0 915.0C1692.4 911.6 1700.5 908.1 1708.5 904.3C1716.5 900.5 1729.3 895.8 1735.3 892.2C1741.3 888.6 1744.7 885.7 1744.7 882.8C1744.7 879.9 1741.3 877.7 1735.3 874.8C1729.3 871.9 1721.9 869.2 1708.5 865.4C1695.1 861.6 1672.7 856.1 1654.8 851.9C1636.9 847.6 1619.0 843.7 1601.1 839.9C1583.2 836.1 1565.3 832.9 1547.4 829.1C1529.5 825.3 1505.3 820.6 1493.7 817.0C1482.1 813.4 1476.7 810.6 1477.6 807.7C1478.5 804.8 1487.5 802.1 1499.1 799.6C1510.7 797.1 1530.4 795.2 1547.4 792.9C1564.4 790.6 1583.2 788.1 1601.1 785.6C1619.0 783.1 1636.9 780.7 1654.8 778.1C1672.7 775.5 1693.7 772.6 1708.5 770.1C1723.3 767.6 1734.9 766.1 1743.4 763.4C1751.9 760.7 1759.5 756.8 1759.5 754.0C1759.5 751.2 1751.9 748.6 1743.4 746.4C1734.9 744.1 1723.3 742.8 1708.5 740.5C1693.7 738.2 1672.7 735.4 1654.8 732.5C1636.9 729.6 1615.9 726.0 1601.1 723.1C1586.3 720.2 1574.0 717.5 1566.2 715.0C1558.4 712.5 1554.1 710.5 1554.1 708.3C1554.1 706.1 1558.4 703.8 1566.2 701.6C1574.0 699.4 1586.3 697.6 1601.1 694.9C1615.9 692.2 1636.9 688.6 1654.8 685.5C1672.7 682.4 1693.3 679.0 1708.5 676.1C1723.7 673.2 1738.0 670.4 1746.0 668.0C1754.0 665.6 1756.3 663.4 1756.8 661.5C1757.2 659.6 1754.5 658.7 1748.7 656.8C1742.9 654.9 1735.3 652.8 1721.9 650.1C1708.5 647.4 1686.1 643.8 1668.2 640.7C1650.3 637.6 1630.6 634.4 1614.5 631.3C1598.4 628.2 1580.5 624.8 1571.5 621.9C1562.5 619.0 1561.2 616.3 1560.8 613.9C1560.4 611.5 1562.2 609.9 1568.9 607.2C1575.6 604.5 1589.0 600.9 1601.1 597.8C1613.2 594.7 1628.8 591.8 1641.3 588.4C1653.8 585.0 1668.4 580.8 1676.2 577.7C1684.0 574.6 1688.7 572.7 1688.3 569.6C1687.9 566.5 1681.4 562.2 1673.6 558.9C1665.8 555.5 1653.4 552.9 1641.3 549.5C1629.2 546.1 1614.1 542.3 1601.1 538.7C1588.1 535.1 1571.3 530.9 1563.5 528.0C1555.7 525.1 1555.0 523.5 1554.1 521.3C1553.2 519.1 1554.8 517.1 1558.1 514.6C1561.4 512.1 1567.0 509.6 1574.2 506.5C1581.4 503.4 1592.6 499.6 1601.1 495.8C1609.6 492.0 1619.8 487.1 1625.2 483.7C1630.6 480.3 1632.8 478.5 1633.3 475.6C1633.8 472.7 1631.5 469.6 1627.9 466.2C1624.3 462.8 1618.1 459.3 1611.8 455.5C1605.5 451.7 1595.0 447.0 1590.3 443.4C1585.6 439.8 1584.0 437.1 1583.6 434.0C1583.2 430.9 1584.8 427.7 1587.7 424.6C1590.6 421.5 1595.3 418.6 1601.1 415.2C1606.9 411.8 1615.9 408.3 1622.6 404.5C1629.3 400.7 1636.1 396.2 1641.3 392.4C1646.5 388.6 1650.4 384.6 1653.5 381.5C1656.6 378.4 1656.5 377.8 1660.0 373.6C1663.5 369.4 1669.6 360.8 1674.4 356.3C1679.2 351.8 1681.6 350.0 1688.8 346.5C1696.0 343.0 1707.9 338.4 1717.5 335.3C1727.1 332.2 1736.7 329.9 1746.3 327.6C1755.9 325.4 1765.5 323.6 1775.1 321.8C1784.7 320.0 1794.2 318.4 1803.8 316.8C1813.4 315.2 1823.0 313.7 1832.6 312.3C1842.2 310.9 1851.8 309.7 1861.4 308.5C1871.0 307.3 1880.5 306.3 1890.1 305.3C1899.7 304.3 1907.2 303.7 1918.9 302.6C1930.6 301.5 1942.4 300.2 1960.0 298.5C1977.6 296.8 1993.0 294.6 2024.6 292.5C2056.2 290.4 2107.8 287.8 2149.3 286.1C2190.9 284.4 2234.9 283.3 2273.9 282.3C2312.9 281.3 2362.5 280.3 2383.5 279.9C2404.5 279.4 2397.2 279.7 2400.0 279.6" stroke="#f40000" stroke-width="7.7"/>
<path d="M240.6 1657.4C242.4 1656.3 245.7 1654.1 251.3 1650.9C256.9 1647.7 267.9 1641.6 274.3 1638.4C280.7 1635.2 283.3 1634.4 289.7 1632.0C296.1 1629.6 306.9 1626.1 312.7 1623.8C318.4 1621.5 320.4 1620.3 324.2 1618.0C328.0 1615.7 332.5 1612.4 335.7 1609.8C338.9 1607.2 340.8 1605.0 343.4 1602.2C345.9 1599.4 348.4 1596.2 351.0 1593.0C353.6 1589.8 356.1 1586.3 358.7 1583.0C361.3 1579.7 363.8 1576.7 366.4 1573.0C368.9 1569.3 371.7 1564.4 374.0 1560.8C376.3 1557.2 378.2 1554.5 380.3 1551.3C382.4 1548.1 384.3 1545.0 386.5 1541.5C388.7 1538.0 391.2 1533.9 393.7 1530.0C396.2 1526.1 398.8 1522.4 401.3 1518.2C403.9 1514.0 406.4 1509.2 409.0 1505.1C411.6 1501.0 414.1 1497.2 416.7 1493.6C419.3 1490.0 421.8 1486.7 424.4 1483.6C426.9 1480.5 428.2 1478.7 432.0 1475.2C435.8 1471.8 442.3 1466.7 447.4 1462.9C452.5 1459.1 457.6 1455.3 462.7 1452.2C467.8 1449.1 472.9 1446.9 478.0 1444.5C483.1 1442.1 487.3 1440.1 493.4 1437.6C499.5 1435.1 507.1 1432.2 514.6 1429.6C522.2 1427.0 530.2 1424.2 538.7 1421.9C547.2 1419.6 556.7 1417.5 565.6 1415.7C574.5 1413.9 581.2 1412.9 592.4 1410.9C603.6 1408.9 617.0 1406.2 632.7 1403.6C648.4 1400.9 668.5 1397.6 686.4 1395.0C704.3 1392.4 722.8 1390.0 740.1 1387.8C757.4 1385.6 777.5 1383.4 790.0 1381.8C802.5 1380.2 804.1 1380.1 815.0 1378.4C825.9 1376.7 842.8 1373.9 855.4 1371.5C868.0 1369.1 879.7 1366.0 890.7 1363.8C901.7 1361.6 911.2 1360.4 921.4 1358.5C931.6 1356.6 941.8 1354.6 952.0 1352.3C962.2 1350.0 972.5 1347.7 982.7 1344.6C992.9 1341.5 1003.2 1337.8 1013.4 1333.5C1023.6 1329.2 1033.9 1323.4 1044.1 1319.0C1054.3 1314.6 1064.6 1310.6 1074.8 1307.0C1085.0 1303.4 1095.2 1300.5 1105.4 1297.3C1115.6 1294.1 1125.9 1290.8 1136.1 1288.0C1146.3 1285.2 1157.8 1282.8 1166.8 1280.6C1175.8 1278.4 1182.0 1277.0 1190.0 1275.0C1198.0 1273.0 1206.2 1271.2 1214.8 1268.9C1223.4 1266.6 1232.6 1264.1 1241.6 1261.3C1250.5 1258.5 1260.5 1255.2 1268.5 1251.9C1276.5 1248.6 1283.2 1245.0 1289.9 1241.2C1296.6 1237.4 1302.4 1233.1 1308.7 1229.1C1315.0 1225.1 1320.8 1220.8 1327.5 1217.0C1334.2 1213.2 1341.0 1209.7 1349.0 1206.3C1357.0 1202.9 1366.8 1199.4 1375.8 1196.4C1384.8 1193.4 1393.8 1190.9 1402.7 1188.3C1411.7 1185.7 1420.5 1183.4 1429.5 1180.8C1438.5 1178.2 1446.6 1175.9 1456.4 1172.8C1466.2 1169.7 1480.1 1165.6 1488.6 1162.0C1497.1 1158.4 1502.7 1154.9 1507.4 1151.3C1512.1 1147.7 1514.3 1144.3 1516.8 1140.5C1519.2 1136.7 1520.1 1132.2 1522.1 1128.5C1524.1 1124.8 1525.3 1121.7 1528.6 1118.4C1531.9 1115.2 1535.3 1112.5 1542.0 1109.0C1548.7 1105.5 1559.1 1101.5 1568.9 1097.6C1578.8 1093.7 1590.4 1089.5 1601.1 1085.5C1611.8 1081.5 1624.3 1077.4 1633.3 1073.4C1642.2 1069.4 1650.2 1064.9 1654.8 1061.3C1659.4 1057.7 1660.7 1055.7 1660.7 1051.9C1660.7 1048.1 1657.6 1043.0 1654.8 1038.5C1652.0 1034.0 1646.5 1029.1 1644.0 1025.1C1641.5 1021.1 1639.5 1018.0 1640.0 1014.4C1640.5 1010.8 1642.9 1007.2 1646.7 1003.6C1650.5 1000.0 1657.4 996.5 1662.8 992.9C1668.2 989.3 1674.8 985.7 1678.9 982.1C1683.0 978.5 1686.1 975.0 1687.5 971.4C1688.9 967.8 1688.0 964.3 1687.5 960.7C1687.0 957.1 1685.3 953.5 1684.8 949.9C1684.3 946.3 1683.5 942.6 1684.3 939.2C1685.1 935.9 1686.6 932.9 1689.7 929.8C1692.8 926.7 1696.4 924.0 1703.1 920.4C1709.8 916.8 1721.0 912.1 1729.9 908.3C1738.9 904.5 1748.7 901.4 1756.8 897.6C1764.9 893.8 1773.7 889.3 1778.3 885.5C1782.9 881.7 1784.2 878.4 1784.4 874.8C1784.6 871.2 1782.2 867.6 1779.6 864.0C1777.0 860.4 1771.6 856.9 1768.9 853.3C1766.2 849.7 1763.7 846.2 1763.5 842.6C1763.3 839.0 1764.2 835.6 1767.5 831.8C1770.8 828.0 1776.4 823.7 1783.6 819.7C1790.8 815.7 1802.5 811.5 1810.5 807.7C1818.5 803.9 1826.8 800.3 1831.9 796.9C1837.0 793.5 1840.0 790.2 1841.3 787.5C1842.6 784.8 1842.0 783.9 1840.0 780.8C1838.0 777.7 1833.3 772.7 1829.3 768.7C1825.3 764.7 1819.2 760.4 1815.8 756.6C1812.4 752.8 1809.8 749.2 1809.1 745.9C1808.4 742.5 1809.8 740.1 1811.8 736.5C1813.8 732.9 1816.0 728.4 1821.2 724.4C1826.4 720.4 1837.8 715.9 1842.7 712.3C1847.6 708.7 1850.3 705.6 1850.7 703.0C1851.1 700.4 1848.6 698.5 1845.0 696.5C1841.4 694.5 1837.6 693.3 1829.3 690.9C1821.0 688.5 1806.2 685.0 1795.0 682.0C1783.8 679.0 1776.5 676.5 1762.1 673.0C1747.7 669.5 1724.2 664.9 1708.5 660.9C1692.8 656.9 1678.0 652.6 1668.2 648.8C1658.4 645.0 1654.8 642.0 1649.4 638.0C1644.0 634.0 1640.5 629.1 1636.0 624.6C1631.5 620.1 1629.3 615.5 1622.6 611.2C1615.9 607.0 1606.0 603.4 1595.7 599.1C1585.4 594.9 1571.5 590.2 1560.8 585.7C1550.1 581.2 1537.8 576.5 1531.3 572.3C1524.8 568.0 1521.9 564.9 1521.9 560.2C1521.9 555.5 1526.2 549.5 1531.3 544.1C1536.4 538.7 1548.1 532.0 1552.8 528.0C1557.5 524.0 1559.5 523.0 1559.5 519.9C1559.5 516.8 1557.0 513.2 1552.8 509.2C1548.5 505.2 1540.7 500.3 1534.0 495.8C1527.3 491.3 1517.2 486.3 1512.5 482.3C1507.8 478.3 1504.9 475.6 1505.8 471.6C1506.7 467.6 1511.9 462.7 1517.9 458.2C1523.9 453.7 1534.8 449.3 1542.0 444.8C1549.2 440.3 1556.5 435.8 1560.8 431.3C1565.0 426.8 1567.5 422.8 1567.5 417.9C1567.5 413.0 1562.6 406.7 1560.8 401.8C1559.0 396.9 1555.9 392.9 1556.8 388.4C1557.7 383.9 1561.0 379.0 1566.2 375.0C1571.4 371.0 1577.4 368.2 1587.7 364.2C1598.0 360.2 1615.9 355.0 1627.9 350.8C1640.0 346.6 1649.8 342.4 1660.0 339.0C1670.2 335.6 1679.2 333.4 1688.8 330.5C1698.4 327.6 1707.9 324.2 1717.5 321.6C1727.1 319.0 1736.7 316.7 1746.3 314.6C1755.9 312.5 1765.5 310.6 1775.1 308.9C1784.7 307.2 1794.2 305.8 1803.8 304.4C1813.4 303.0 1823.0 301.8 1832.6 300.6C1842.2 299.4 1851.8 298.3 1861.4 297.4C1871.0 296.4 1880.5 295.7 1890.1 294.9C1899.7 294.1 1907.2 293.5 1918.9 292.7C1930.6 291.9 1942.4 290.9 1960.0 289.8C1977.6 288.7 1993.0 287.5 2024.6 286.1C2056.2 284.7 2107.8 282.9 2149.3 281.6C2190.9 280.4 2234.9 279.4 2273.9 278.6C2312.9 277.8 2362.5 277.0 2383.5 276.6C2404.5 276.2 2397.2 276.4 2400.0 276.3" stroke="#0000f8" stroke-width="7.8"/>
</g></g>
<g font-size="76.5px">
<text x="203" y="1680.4" text-anchor="end">0</text>
<text x="203" y="1414.5" text-anchor="end">10</text>
<text x="203" y="1148.5" text-anchor="end">20</text>
<text x="203" y="882.6" text-anchor="end">30</text>
<text x="203" y="616.7" text-anchor="end">40</text>
<text x="203" y="350.7" text-anchor="end">50</text>
<text x="203" y="84.8" text-anchor="end">60</text>
<text x="238.0" y="1885" text-anchor="middle">0</text>
<text x="774.5" y="1885" text-anchor="middle">50</text>
<text x="1311.0" y="1885" text-anchor="middle">100</text>
<text x="1847.5" y="1885" text-anchor="middle">150</text>
<text x="2384.0" y="1885" text-anchor="middle">200</text>
</g>
<text x="1311.5" y="2035.5" text-anchor="middle" font-size="90.6px">Hole Current Density (A/cm<tspan dy="-37.5" font-size="59px">2</tspan><tspan dy="37.5">)</tspan></text>
<text transform="translate(89.5,926.5) rotate(-90)" text-anchor="middle" font-size="91px">y (μm)</text>
<rect x="1998" y="464.5" width="358" height="222.5" fill="#000"/>
<rect x="1973" y="440.3" width="357.5" height="221.5" fill="#fff" stroke="#222" stroke-width="2.2"/>
<line x1="1984" y1="480.3" x2="2110" y2="480.3" stroke="#000" stroke-width="10.5" stroke-linecap="round"/>
<text x="2124" y="499.7" font-size="58px">Conv-SJ</text>
<line x1="1984" y1="551.3" x2="2110" y2="551.3" stroke="#f40000" stroke-width="10.5" stroke-linecap="round"/>
<text x="2124" y="570.2" font-size="58px">BS-SJ</text>
<line x1="1984" y1="622.3" x2="2110" y2="622.3" stroke="#0000f8" stroke-width="10.5" stroke-linecap="round"/>
<text x="2124" y="640.7" font-size="58px">CS-SJ</text>
<rect x="1723" y="1198.20" width="19.7" height="14.42" fill="#ff0f00"/>
<rect x="1723" y="1212.22" width="19.7" height="14.42" fill="#ff2f00"/>
<rect x="1723" y="1226.23" width="19.7" height="14.42" fill="#ff4f00"/>
<rect x="1723" y="1240.25" width="19.7" height="14.42" fill="#ff6f00"/>
<rect x="1723" y="1254.26" width="19.7" height="14.42" fill="#ff8f00"/>
<rect x="1723" y="1268.28" width="19.7" height="14.42" fill="#ffaf00"/>
<rect x="1723" y="1282.29" width="19.7" height="14.42" fill="#ffcf00"/>
<rect x="1723" y="1296.31" width="19.7" height="14.42" fill="#ffef00"/>
<rect x="1723" y="1310.33" width="19.7" height="14.42" fill="#efff00"/>
<rect x="1723" y="1324.34" width="19.7" height="14.42" fill="#cfff00"/>
<rect x="1723" y="1338.36" width="19.7" height="14.42" fill="#afff00"/>
<rect x="1723" y="1352.37" width="19.7" height="14.42" fill="#8fff00"/>
<rect x="1723" y="1366.39" width="19.7" height="14.42" fill="#6fff00"/>
<rect x="1723" y="1380.40" width="19.7" height="14.42" fill="#4fff00"/>
<rect x="1723" y="1394.42" width="19.7" height="14.42" fill="#2fff00"/>
<rect x="1723" y="1408.43" width="19.7" height="14.42" fill="#0fff00"/>
<rect x="1723" y="1422.45" width="19.7" height="14.42" fill="#00ff0f"/>
<rect x="1723" y="1436.47" width="19.7" height="14.42" fill="#00ff2f"/>
<rect x="1723" y="1450.48" width="19.7" height="14.42" fill="#00ff4f"/>
<rect x="1723" y="1464.50" width="19.7" height="14.42" fill="#00ff6f"/>
<rect x="1723" y="1478.51" width="19.7" height="14.42" fill="#00ff8f"/>
<rect x="1723" y="1492.53" width="19.7" height="14.42" fill="#00ffaf"/>
<rect x="1723" y="1506.54" width="19.7" height="14.42" fill="#00ffcf"/>
<rect x="1723" y="1520.56" width="19.7" height="14.42" fill="#00ffef"/>
<rect x="1723" y="1534.58" width="19.7" height="14.42" fill="#00efff"/>
<rect x="1723" y="1548.59" width="19.7" height="14.42" fill="#00cfff"/>
<rect x="1723" y="1562.61" width="19.7" height="14.42" fill="#00afff"/>
<rect x="1723" y="1576.62" width="19.7" height="14.42" fill="#008fff"/>
<rect x="1723" y="1590.64" width="19.7" height="14.42" fill="#006fff"/>
<rect x="1723" y="1604.65" width="19.7" height="14.42" fill="#004fff"/>
<rect x="1723" y="1618.67" width="19.7" height="14.42" fill="#002fff"/>
<rect x="1723" y="1632.68" width="19.7" height="14.42" fill="#000fff"/>
<text class="cb" x="1721" y="1184.5">Hole current density [A/cm^2]</text>
<text class="cb" x="1744.8" y="1224.0">2.0e+03</text>
<text class="cb" x="1744.8" y="1294.0">7.9e-01</text>
<text class="cb" x="1744.8" y="1363.9">3.1e-04</text>
<text class="cb" x="1744.8" y="1433.8">1.2e-07</text>
<text class="cb" x="1744.8" y="1503.8">4.8e-11</text>
<text class="cb" x="1744.8" y="1573.8">1.9e-14</text>
<text class="cb" x="1744.8" y="1643.7">7.4e-18</text>
</svg></body></html>
